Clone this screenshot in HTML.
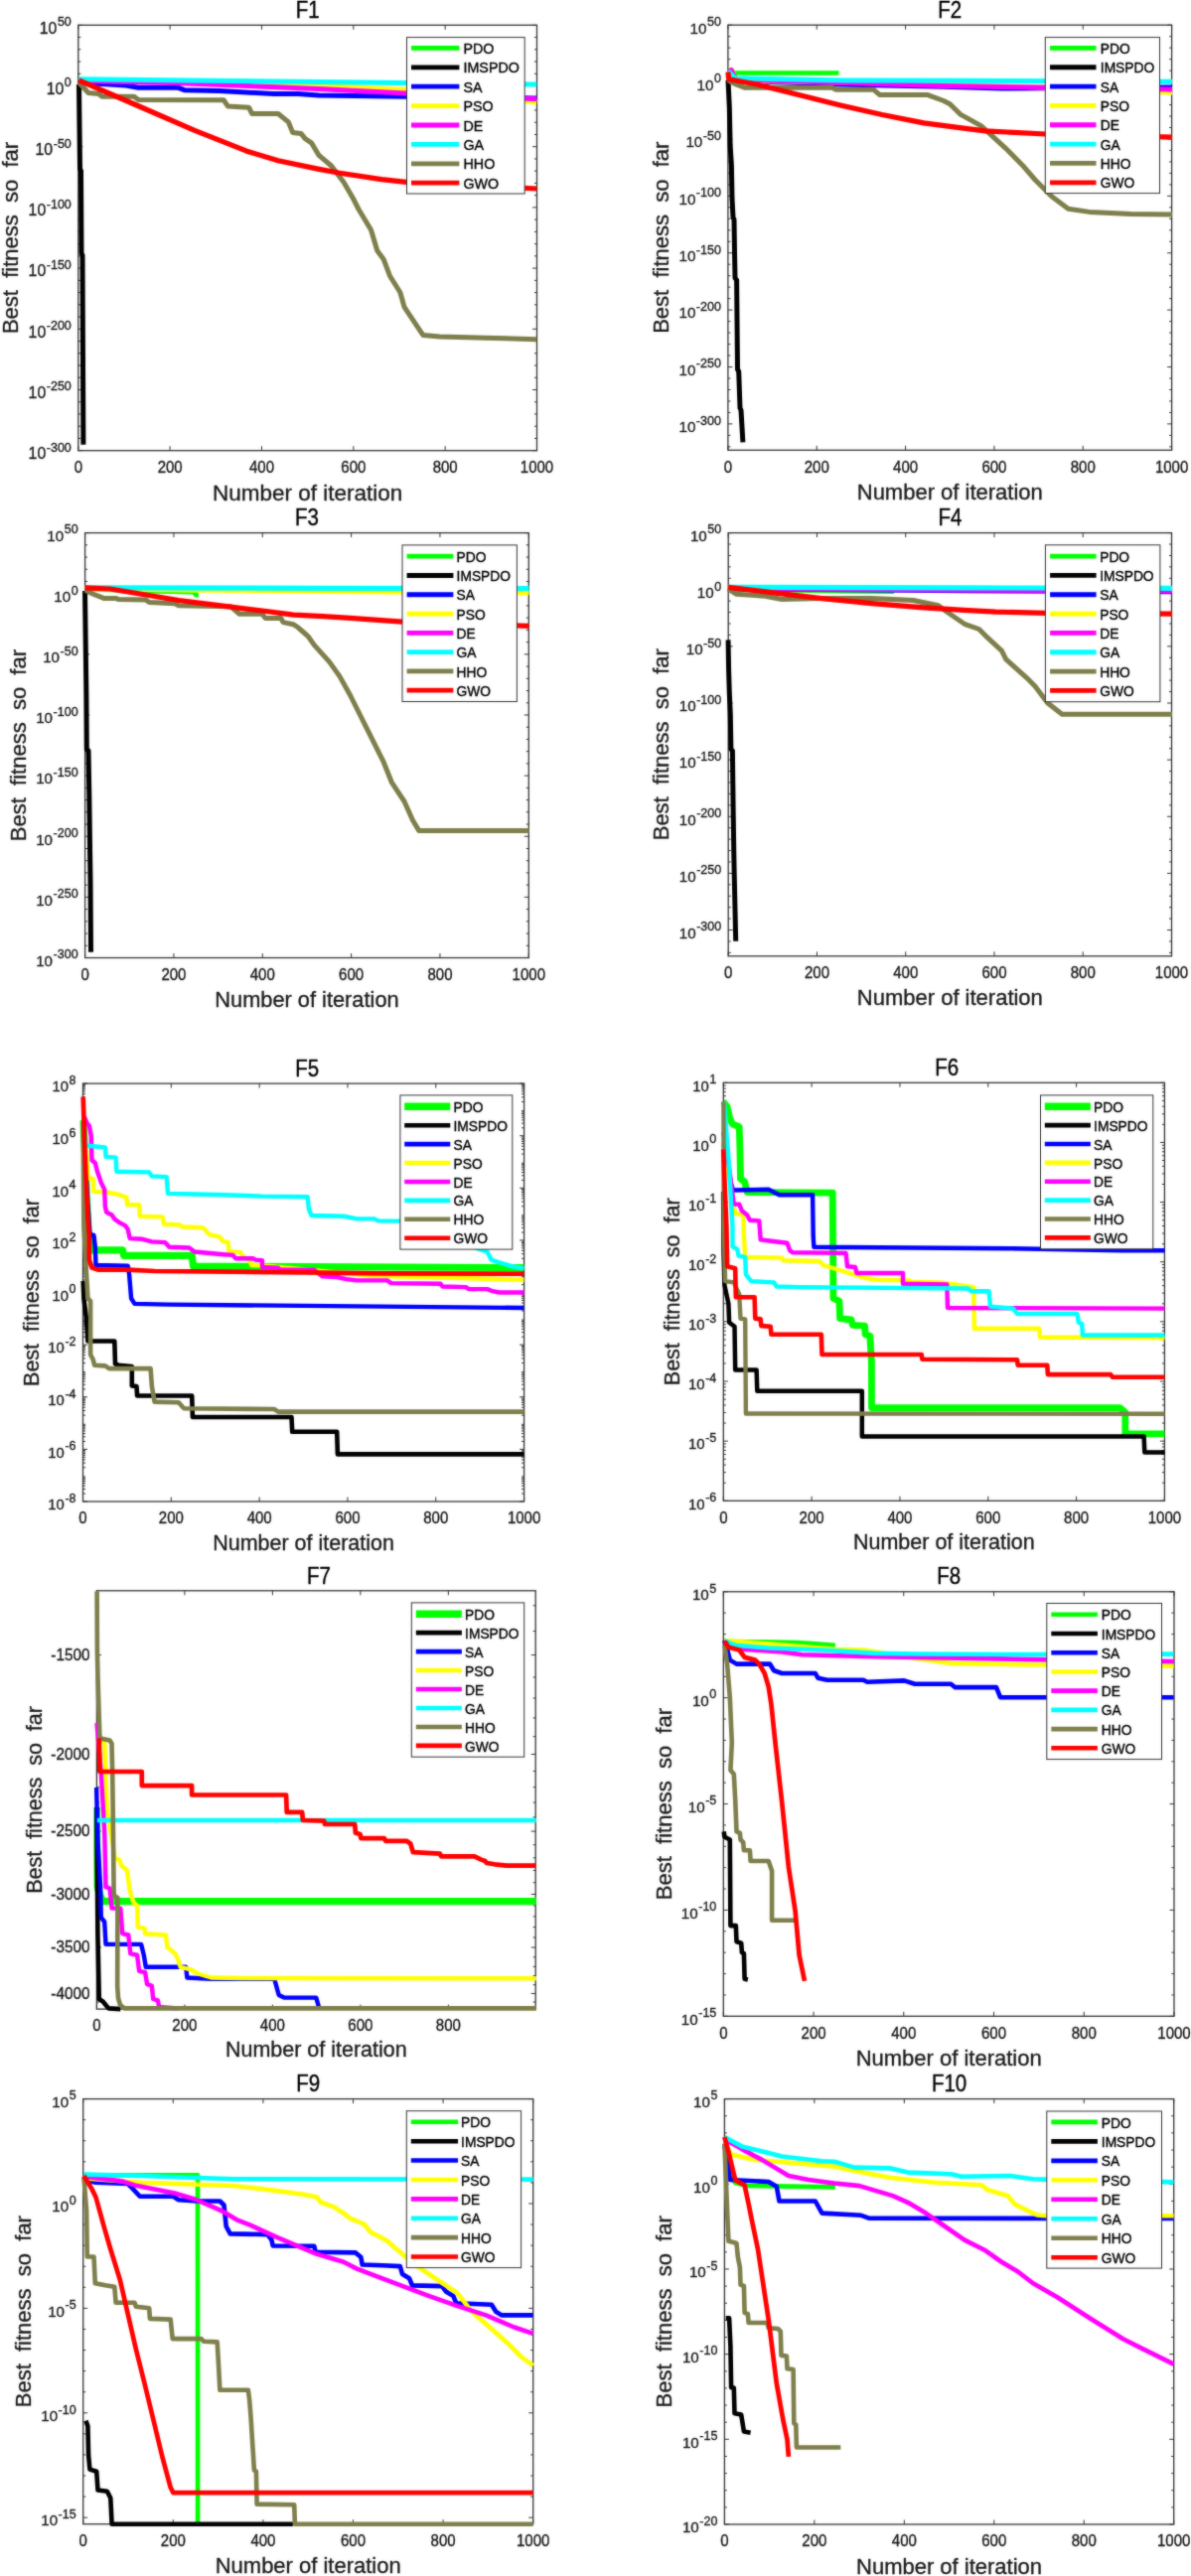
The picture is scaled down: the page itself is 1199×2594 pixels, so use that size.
<!DOCTYPE html><html><head><meta charset="utf-8"><style>html,body{margin:0;padding:0;background:#fff;}#wrap{position:relative;width:1199px;height:2594px;overflow:hidden}svg{position:absolute;left:0;top:0;display:block;font-family:"Liberation Sans",sans-serif;}#crisp{will-change:transform}#soft{filter:blur(1px);opacity:0.35}</style></head><body><div id="wrap">
<svg id="crisp" width="1199" height="2594" viewBox="0 0 1199 2594"><g id="all">
<rect width="1199" height="2594" fill="#fff"/>
<rect x="78.8" y="25.3" width="461.7" height="428.4" fill="none" stroke="#333333" stroke-width="1.3"/>
<path d="M78.8 453.7v-4.5M78.8 25.3v4.5" stroke="#333333" stroke-width="1"/>
<text transform="translate(78.8,476) scale(1,1.08)" font-size="15" text-anchor="middle" fill="#1a1a1a" stroke="#1a1a1a" stroke-width="0.35">0</text>
<path d="M171.14 453.7v-4.5M171.14 25.3v4.5" stroke="#333333" stroke-width="1"/>
<text transform="translate(171.14,476) scale(1,1.08)" font-size="15" text-anchor="middle" fill="#1a1a1a" stroke="#1a1a1a" stroke-width="0.35">200</text>
<path d="M263.48 453.7v-4.5M263.48 25.3v4.5" stroke="#333333" stroke-width="1"/>
<text transform="translate(263.48,476) scale(1,1.08)" font-size="15" text-anchor="middle" fill="#1a1a1a" stroke="#1a1a1a" stroke-width="0.35">400</text>
<path d="M355.82 453.7v-4.5M355.82 25.3v4.5" stroke="#333333" stroke-width="1"/>
<text transform="translate(355.82,476) scale(1,1.08)" font-size="15" text-anchor="middle" fill="#1a1a1a" stroke="#1a1a1a" stroke-width="0.35">600</text>
<path d="M448.16 453.7v-4.5M448.16 25.3v4.5" stroke="#333333" stroke-width="1"/>
<text transform="translate(448.16,476) scale(1,1.08)" font-size="15" text-anchor="middle" fill="#1a1a1a" stroke="#1a1a1a" stroke-width="0.35">800</text>
<path d="M540.5 453.7v-4.5M540.5 25.3v4.5" stroke="#333333" stroke-width="1"/>
<text transform="translate(540.5,476) scale(1,1.08)" font-size="15" text-anchor="middle" fill="#1a1a1a" stroke="#1a1a1a" stroke-width="0.35">1000</text>
<path d="M78.8 453.7h4.5M540.5 453.7h-4.5" stroke="#333333" stroke-width="1"/>
<path d="M78.8 392.5h4.5M540.5 392.5h-4.5" stroke="#333333" stroke-width="1"/>
<path d="M78.8 331.3h4.5M540.5 331.3h-4.5" stroke="#333333" stroke-width="1"/>
<path d="M78.8 270.1h4.5M540.5 270.1h-4.5" stroke="#333333" stroke-width="1"/>
<path d="M78.8 208.9h4.5M540.5 208.9h-4.5" stroke="#333333" stroke-width="1"/>
<path d="M78.8 147.7h4.5M540.5 147.7h-4.5" stroke="#333333" stroke-width="1"/>
<path d="M78.8 86.5h4.5M540.5 86.5h-4.5" stroke="#333333" stroke-width="1"/>
<path d="M78.8 25.3h4.5M540.5 25.3h-4.5" stroke="#333333" stroke-width="1"/>
<path d="M78.8 441.46h2.5M540.5 441.46h-2.5" stroke="#333333" stroke-width="1"/>
<path d="M78.8 429.22h2.5M540.5 429.22h-2.5" stroke="#333333" stroke-width="1"/>
<path d="M78.8 416.98h2.5M540.5 416.98h-2.5" stroke="#333333" stroke-width="1"/>
<path d="M78.8 404.74h2.5M540.5 404.74h-2.5" stroke="#333333" stroke-width="1"/>
<path d="M78.8 380.26h2.5M540.5 380.26h-2.5" stroke="#333333" stroke-width="1"/>
<path d="M78.8 368.02h2.5M540.5 368.02h-2.5" stroke="#333333" stroke-width="1"/>
<path d="M78.8 355.78h2.5M540.5 355.78h-2.5" stroke="#333333" stroke-width="1"/>
<path d="M78.8 343.54h2.5M540.5 343.54h-2.5" stroke="#333333" stroke-width="1"/>
<path d="M78.8 319.06h2.5M540.5 319.06h-2.5" stroke="#333333" stroke-width="1"/>
<path d="M78.8 306.82h2.5M540.5 306.82h-2.5" stroke="#333333" stroke-width="1"/>
<path d="M78.8 294.58h2.5M540.5 294.58h-2.5" stroke="#333333" stroke-width="1"/>
<path d="M78.8 282.34h2.5M540.5 282.34h-2.5" stroke="#333333" stroke-width="1"/>
<path d="M78.8 257.86h2.5M540.5 257.86h-2.5" stroke="#333333" stroke-width="1"/>
<path d="M78.8 245.62h2.5M540.5 245.62h-2.5" stroke="#333333" stroke-width="1"/>
<path d="M78.8 233.38h2.5M540.5 233.38h-2.5" stroke="#333333" stroke-width="1"/>
<path d="M78.8 221.14h2.5M540.5 221.14h-2.5" stroke="#333333" stroke-width="1"/>
<path d="M78.8 196.66h2.5M540.5 196.66h-2.5" stroke="#333333" stroke-width="1"/>
<path d="M78.8 184.42h2.5M540.5 184.42h-2.5" stroke="#333333" stroke-width="1"/>
<path d="M78.8 172.18h2.5M540.5 172.18h-2.5" stroke="#333333" stroke-width="1"/>
<path d="M78.8 159.94h2.5M540.5 159.94h-2.5" stroke="#333333" stroke-width="1"/>
<path d="M78.8 135.46h2.5M540.5 135.46h-2.5" stroke="#333333" stroke-width="1"/>
<path d="M78.8 123.22h2.5M540.5 123.22h-2.5" stroke="#333333" stroke-width="1"/>
<path d="M78.8 110.98h2.5M540.5 110.98h-2.5" stroke="#333333" stroke-width="1"/>
<path d="M78.8 98.74h2.5M540.5 98.74h-2.5" stroke="#333333" stroke-width="1"/>
<path d="M78.8 74.26h2.5M540.5 74.26h-2.5" stroke="#333333" stroke-width="1"/>
<path d="M78.8 62.02h2.5M540.5 62.02h-2.5" stroke="#333333" stroke-width="1"/>
<path d="M78.8 49.78h2.5M540.5 49.78h-2.5" stroke="#333333" stroke-width="1"/>
<path d="M78.8 37.54h2.5M540.5 37.54h-2.5" stroke="#333333" stroke-width="1"/>
<clipPath id="cF1"><rect x="75.8" y="22.3" width="467.7" height="434.4"/></clipPath>
<g clip-path="url(#cF1)" fill="none" stroke-linejoin="round" stroke-linecap="butt">
<polyline points="79.4,80 320,82.6" stroke="#00ff00" stroke-width="4"/>
<polyline points="79.5,85 80.5,170 81.5,172 82,255 83,257 83.9,447.7" stroke="#000000" stroke-width="5"/>
<polyline points="79.4,83 126.7,86.1 139.3,88.2 179,88.2 185.5,90.7 221,91.4 275.7,94.5 300,94.5 321,96 409,97.2 540.3,99" stroke="#0000ff" stroke-width="5"/>
<polyline points="79.4,81 200,83 320,86.5 409,90.3 540.3,102.9" stroke="#ffff00" stroke-width="5"/>
<polyline points="79.4,81.5 175,83.5 320,89.5 409,93.9 540.3,99.8" stroke="#ff00ff" stroke-width="5"/>
<polyline points="79.4,79.8 320,82.6 409,83.4 540.3,85.1" stroke="#00ffff" stroke-width="5"/>
<polyline points="79.4,83 88.9,93.5 99.4,94.5 102.5,97.2 135,97.2 139.3,100.4 225.3,100.8 229.5,107.1 250.5,108.2 253.7,114.5 280,114.5 290.4,122.9 294.6,133.4 303,134.4 307.2,139.6 313.5,143.8 321,156.4 333.6,167 346.2,183.7 355.6,200 360.9,210.5 373.5,231.5 379.8,252.5 386.1,260.9 392.4,277.7 402.9,294.5 407,309.2 423.8,334.3 426,337.5 442.7,339 488.9,340.2 540.3,341.7" stroke="#7f7f4c" stroke-width="5"/>
<polyline points="79.4,80.9 133,104 196,131.3 248.4,152.2 280,161.7 320,170.1 342,174.3 384,180.6 409,183.3 540.3,190" stroke="#ff0000" stroke-width="5.2"/>
</g>
<text transform="translate(71.8,26.1) scale(1,1.0)" font-size="12.5" text-anchor="end" fill="#1a1a1a" stroke="#1a1a1a" stroke-width="0.35">50</text>
<text transform="translate(57.29,33.6) scale(1,1.0)" font-size="15.8" text-anchor="end" fill="#1a1a1a" stroke="#1a1a1a" stroke-width="0.35">10</text>
<text transform="translate(71.8,87.3) scale(1,1.0)" font-size="12.5" text-anchor="end" fill="#1a1a1a" stroke="#1a1a1a" stroke-width="0.35">0</text>
<text transform="translate(64.25,94.8) scale(1,1.0)" font-size="15.8" text-anchor="end" fill="#1a1a1a" stroke="#1a1a1a" stroke-width="0.35">10</text>
<text transform="translate(71.8,148.5) scale(1,1.0)" font-size="12.5" text-anchor="end" fill="#1a1a1a" stroke="#1a1a1a" stroke-width="0.35">-50</text>
<text transform="translate(53.14,156) scale(1,1.0)" font-size="15.8" text-anchor="end" fill="#1a1a1a" stroke="#1a1a1a" stroke-width="0.35">10</text>
<text transform="translate(71.8,209.7) scale(1,1.0)" font-size="12.5" text-anchor="end" fill="#1a1a1a" stroke="#1a1a1a" stroke-width="0.35">-100</text>
<text transform="translate(46.18,217.2) scale(1,1.0)" font-size="15.8" text-anchor="end" fill="#1a1a1a" stroke="#1a1a1a" stroke-width="0.35">10</text>
<text transform="translate(71.8,270.9) scale(1,1.0)" font-size="12.5" text-anchor="end" fill="#1a1a1a" stroke="#1a1a1a" stroke-width="0.35">-150</text>
<text transform="translate(46.18,278.4) scale(1,1.0)" font-size="15.8" text-anchor="end" fill="#1a1a1a" stroke="#1a1a1a" stroke-width="0.35">10</text>
<text transform="translate(71.8,332.1) scale(1,1.0)" font-size="12.5" text-anchor="end" fill="#1a1a1a" stroke="#1a1a1a" stroke-width="0.35">-200</text>
<text transform="translate(46.18,339.6) scale(1,1.0)" font-size="15.8" text-anchor="end" fill="#1a1a1a" stroke="#1a1a1a" stroke-width="0.35">10</text>
<text transform="translate(71.8,393.3) scale(1,1.0)" font-size="12.5" text-anchor="end" fill="#1a1a1a" stroke="#1a1a1a" stroke-width="0.35">-250</text>
<text transform="translate(46.18,400.8) scale(1,1.0)" font-size="15.8" text-anchor="end" fill="#1a1a1a" stroke="#1a1a1a" stroke-width="0.35">10</text>
<text transform="translate(71.8,454.5) scale(1,1.0)" font-size="12.5" text-anchor="end" fill="#1a1a1a" stroke="#1a1a1a" stroke-width="0.35">-300</text>
<text transform="translate(46.18,462) scale(1,1.0)" font-size="15.8" text-anchor="end" fill="#1a1a1a" stroke="#1a1a1a" stroke-width="0.35">10</text>
<text transform="translate(309.65,17.8) scale(1,1.13)" font-size="20.5" text-anchor="middle" fill="#000" stroke="#000" stroke-width="0.35">F1</text>
<text transform="translate(309.65,503.7) scale(1,0.99)" font-size="22.5" text-anchor="middle" fill="#1a1a1a" stroke="#1a1a1a" stroke-width="0.35">Number of iteration</text>
<text transform="translate(18.1,239.5) rotate(-90)" x="0" y="0" font-size="22" text-anchor="middle" fill="#1a1a1a" stroke="#1a1a1a" stroke-width="0.35" style="white-space:pre">Best  fitness  so  far</text>
<rect x="409.5" y="37.6" width="118.7" height="157.4" fill="#fff" stroke="#333333" stroke-width="1"/>
<path d="M414 48.4H462.4" stroke="#00ff00" stroke-width="4.8"/>
<text transform="translate(466.5,54) scale(1,1.04)" font-size="14.3" fill="#000" stroke="#000" stroke-width="0.35">PDO</text>
<path d="M414 67.8H462.4" stroke="#000000" stroke-width="4.8"/>
<text transform="translate(466.5,73.4) scale(1,1.04)" font-size="14.3" fill="#000" stroke="#000" stroke-width="0.35">IMSPDO</text>
<path d="M414 87.2H462.4" stroke="#0000ff" stroke-width="4.8"/>
<text transform="translate(466.5,92.8) scale(1,1.04)" font-size="14.3" fill="#000" stroke="#000" stroke-width="0.35">SA</text>
<path d="M414 106.6H462.4" stroke="#ffff00" stroke-width="4.8"/>
<text transform="translate(466.5,112.2) scale(1,1.04)" font-size="14.3" fill="#000" stroke="#000" stroke-width="0.35">PSO</text>
<path d="M414 126H462.4" stroke="#ff00ff" stroke-width="4.8"/>
<text transform="translate(466.5,131.6) scale(1,1.04)" font-size="14.3" fill="#000" stroke="#000" stroke-width="0.35">DE</text>
<path d="M414 145.4H462.4" stroke="#00ffff" stroke-width="4.8"/>
<text transform="translate(466.5,151) scale(1,1.04)" font-size="14.3" fill="#000" stroke="#000" stroke-width="0.35">GA</text>
<path d="M414 164.8H462.4" stroke="#7f7f4c" stroke-width="4.8"/>
<text transform="translate(466.5,170.4) scale(1,1.04)" font-size="14.3" fill="#000" stroke="#000" stroke-width="0.35">HHO</text>
<path d="M414 184.2H462.4" stroke="#ff0000" stroke-width="4.8"/>
<text transform="translate(466.5,189.8) scale(1,1.04)" font-size="14.3" fill="#000" stroke="#000" stroke-width="0.35">GWO</text>
<rect x="732.9" y="25.2" width="446.7" height="428.1" fill="none" stroke="#333333" stroke-width="1.3"/>
<path d="M732.9 453.3v-4.5M732.9 25.2v4.5" stroke="#333333" stroke-width="1"/>
<text transform="translate(732.9,475.6) scale(1,1.08)" font-size="15" text-anchor="middle" fill="#1a1a1a" stroke="#1a1a1a" stroke-width="0.35">0</text>
<path d="M822.24 453.3v-4.5M822.24 25.2v4.5" stroke="#333333" stroke-width="1"/>
<text transform="translate(822.24,475.6) scale(1,1.08)" font-size="15" text-anchor="middle" fill="#1a1a1a" stroke="#1a1a1a" stroke-width="0.35">200</text>
<path d="M911.58 453.3v-4.5M911.58 25.2v4.5" stroke="#333333" stroke-width="1"/>
<text transform="translate(911.58,475.6) scale(1,1.08)" font-size="15" text-anchor="middle" fill="#1a1a1a" stroke="#1a1a1a" stroke-width="0.35">400</text>
<path d="M1000.92 453.3v-4.5M1000.92 25.2v4.5" stroke="#333333" stroke-width="1"/>
<text transform="translate(1000.92,475.6) scale(1,1.08)" font-size="15" text-anchor="middle" fill="#1a1a1a" stroke="#1a1a1a" stroke-width="0.35">600</text>
<path d="M1090.26 453.3v-4.5M1090.26 25.2v4.5" stroke="#333333" stroke-width="1"/>
<text transform="translate(1090.26,475.6) scale(1,1.08)" font-size="15" text-anchor="middle" fill="#1a1a1a" stroke="#1a1a1a" stroke-width="0.35">800</text>
<path d="M1179.6 453.3v-4.5M1179.6 25.2v4.5" stroke="#333333" stroke-width="1"/>
<text transform="translate(1179.6,475.6) scale(1,1.08)" font-size="15" text-anchor="middle" fill="#1a1a1a" stroke="#1a1a1a" stroke-width="0.35">1000</text>
<path d="M732.9 426.9h4.5M1179.6 426.9h-4.5" stroke="#333333" stroke-width="1"/>
<path d="M732.9 369.52h4.5M1179.6 369.52h-4.5" stroke="#333333" stroke-width="1"/>
<path d="M732.9 312.13h4.5M1179.6 312.13h-4.5" stroke="#333333" stroke-width="1"/>
<path d="M732.9 254.74h4.5M1179.6 254.74h-4.5" stroke="#333333" stroke-width="1"/>
<path d="M732.9 197.36h4.5M1179.6 197.36h-4.5" stroke="#333333" stroke-width="1"/>
<path d="M732.9 139.97h4.5M1179.6 139.97h-4.5" stroke="#333333" stroke-width="1"/>
<path d="M732.9 82.59h4.5M1179.6 82.59h-4.5" stroke="#333333" stroke-width="1"/>
<path d="M732.9 25.2h4.5M1179.6 25.2h-4.5" stroke="#333333" stroke-width="1"/>
<path d="M732.9 449.86h2.5M1179.6 449.86h-2.5" stroke="#333333" stroke-width="1"/>
<path d="M732.9 438.38h2.5M1179.6 438.38h-2.5" stroke="#333333" stroke-width="1"/>
<path d="M732.9 415.43h2.5M1179.6 415.43h-2.5" stroke="#333333" stroke-width="1"/>
<path d="M732.9 403.95h2.5M1179.6 403.95h-2.5" stroke="#333333" stroke-width="1"/>
<path d="M732.9 392.47h2.5M1179.6 392.47h-2.5" stroke="#333333" stroke-width="1"/>
<path d="M732.9 380.99h2.5M1179.6 380.99h-2.5" stroke="#333333" stroke-width="1"/>
<path d="M732.9 358.04h2.5M1179.6 358.04h-2.5" stroke="#333333" stroke-width="1"/>
<path d="M732.9 346.56h2.5M1179.6 346.56h-2.5" stroke="#333333" stroke-width="1"/>
<path d="M732.9 335.08h2.5M1179.6 335.08h-2.5" stroke="#333333" stroke-width="1"/>
<path d="M732.9 323.61h2.5M1179.6 323.61h-2.5" stroke="#333333" stroke-width="1"/>
<path d="M732.9 300.65h2.5M1179.6 300.65h-2.5" stroke="#333333" stroke-width="1"/>
<path d="M732.9 289.18h2.5M1179.6 289.18h-2.5" stroke="#333333" stroke-width="1"/>
<path d="M732.9 277.7h2.5M1179.6 277.7h-2.5" stroke="#333333" stroke-width="1"/>
<path d="M732.9 266.22h2.5M1179.6 266.22h-2.5" stroke="#333333" stroke-width="1"/>
<path d="M732.9 243.27h2.5M1179.6 243.27h-2.5" stroke="#333333" stroke-width="1"/>
<path d="M732.9 231.79h2.5M1179.6 231.79h-2.5" stroke="#333333" stroke-width="1"/>
<path d="M732.9 220.31h2.5M1179.6 220.31h-2.5" stroke="#333333" stroke-width="1"/>
<path d="M732.9 208.84h2.5M1179.6 208.84h-2.5" stroke="#333333" stroke-width="1"/>
<path d="M732.9 185.88h2.5M1179.6 185.88h-2.5" stroke="#333333" stroke-width="1"/>
<path d="M732.9 174.4h2.5M1179.6 174.4h-2.5" stroke="#333333" stroke-width="1"/>
<path d="M732.9 162.93h2.5M1179.6 162.93h-2.5" stroke="#333333" stroke-width="1"/>
<path d="M732.9 151.45h2.5M1179.6 151.45h-2.5" stroke="#333333" stroke-width="1"/>
<path d="M732.9 128.49h2.5M1179.6 128.49h-2.5" stroke="#333333" stroke-width="1"/>
<path d="M732.9 117.02h2.5M1179.6 117.02h-2.5" stroke="#333333" stroke-width="1"/>
<path d="M732.9 105.54h2.5M1179.6 105.54h-2.5" stroke="#333333" stroke-width="1"/>
<path d="M732.9 94.06h2.5M1179.6 94.06h-2.5" stroke="#333333" stroke-width="1"/>
<path d="M732.9 71.11h2.5M1179.6 71.11h-2.5" stroke="#333333" stroke-width="1"/>
<path d="M732.9 59.63h2.5M1179.6 59.63h-2.5" stroke="#333333" stroke-width="1"/>
<path d="M732.9 48.15h2.5M1179.6 48.15h-2.5" stroke="#333333" stroke-width="1"/>
<path d="M732.9 36.68h2.5M1179.6 36.68h-2.5" stroke="#333333" stroke-width="1"/>
<clipPath id="cF2"><rect x="729.9" y="22.2" width="452.7" height="434.1"/></clipPath>
<g clip-path="url(#cF2)" fill="none" stroke-linejoin="round" stroke-linecap="butt">
<polyline points="733,70 737,70.5 739,73.5 844.5,73.5" stroke="#00ff00" stroke-width="4.5"/>
<polyline points="733,81 734.3,108 735.1,146 736.4,167 737,200 738,219 739,221 739.5,254 740,280 741.6,282 742.5,372 743.7,374 745,411 746,413 747.9,445.3" stroke="#000000" stroke-width="5"/>
<polyline points="733,81 846,85 950,87.3 1008.5,89 1180,88" stroke="#0000ff" stroke-width="5"/>
<polyline points="733,70 737,71 741,81 900,84 1050,88 1180,93.2" stroke="#ffff00" stroke-width="5"/>
<polyline points="733,72 736,70.5 741,80 950,86.5 1180,90" stroke="#ff00ff" stroke-width="5"/>
<polyline points="733,71.4 740,78.8 850,80.9 970,81.3 1180,82.3" stroke="#00ffff" stroke-width="5"/>
<polyline points="733,80.9 741,85 749.4,88.2 837.5,88.2 841.7,90.3 879.5,90.3 885.8,95.6 934,95.6 950,101.5 956.3,104.7 966.7,115.1 987.6,126.6 1000.2,138.1 1012.7,149.6 1029.4,166.4 1042,181 1058.7,197.7 1075.4,210.3 1096.4,213.4 1138.2,215.5 1180,216.1" stroke="#7f7f4c" stroke-width="5"/>
<polyline points="733,72.5 733.6,79.8 762,85 804,95.6 846,106 888,115.5 930,123.9 970,129.2 991.8,131.9 1052.4,135 1180,138.1" stroke="#ff0000" stroke-width="5.2"/>
</g>
<text transform="translate(725.9,26) scale(1,1.0)" font-size="12.5" text-anchor="end" fill="#1a1a1a" stroke="#1a1a1a" stroke-width="0.35">50</text>
<text transform="translate(711.39,33.5) scale(1,1.0)" font-size="15.1" text-anchor="end" fill="#1a1a1a" stroke="#1a1a1a" stroke-width="0.35">10</text>
<text transform="translate(725.9,83.39) scale(1,1.0)" font-size="12.5" text-anchor="end" fill="#1a1a1a" stroke="#1a1a1a" stroke-width="0.35">0</text>
<text transform="translate(718.35,90.89) scale(1,1.0)" font-size="15.1" text-anchor="end" fill="#1a1a1a" stroke="#1a1a1a" stroke-width="0.35">10</text>
<text transform="translate(725.9,140.77) scale(1,1.0)" font-size="12.5" text-anchor="end" fill="#1a1a1a" stroke="#1a1a1a" stroke-width="0.35">-50</text>
<text transform="translate(707.24,148.27) scale(1,1.0)" font-size="15.1" text-anchor="end" fill="#1a1a1a" stroke="#1a1a1a" stroke-width="0.35">10</text>
<text transform="translate(725.9,198.16) scale(1,1.0)" font-size="12.5" text-anchor="end" fill="#1a1a1a" stroke="#1a1a1a" stroke-width="0.35">-100</text>
<text transform="translate(700.28,205.66) scale(1,1.0)" font-size="15.1" text-anchor="end" fill="#1a1a1a" stroke="#1a1a1a" stroke-width="0.35">10</text>
<text transform="translate(725.9,255.54) scale(1,1.0)" font-size="12.5" text-anchor="end" fill="#1a1a1a" stroke="#1a1a1a" stroke-width="0.35">-150</text>
<text transform="translate(700.28,263.04) scale(1,1.0)" font-size="15.1" text-anchor="end" fill="#1a1a1a" stroke="#1a1a1a" stroke-width="0.35">10</text>
<text transform="translate(725.9,312.93) scale(1,1.0)" font-size="12.5" text-anchor="end" fill="#1a1a1a" stroke="#1a1a1a" stroke-width="0.35">-200</text>
<text transform="translate(700.28,320.43) scale(1,1.0)" font-size="15.1" text-anchor="end" fill="#1a1a1a" stroke="#1a1a1a" stroke-width="0.35">10</text>
<text transform="translate(725.9,370.32) scale(1,1.0)" font-size="12.5" text-anchor="end" fill="#1a1a1a" stroke="#1a1a1a" stroke-width="0.35">-250</text>
<text transform="translate(700.28,377.82) scale(1,1.0)" font-size="15.1" text-anchor="end" fill="#1a1a1a" stroke="#1a1a1a" stroke-width="0.35">10</text>
<text transform="translate(725.9,427.7) scale(1,1.0)" font-size="12.5" text-anchor="end" fill="#1a1a1a" stroke="#1a1a1a" stroke-width="0.35">-300</text>
<text transform="translate(700.28,435.2) scale(1,1.0)" font-size="15.1" text-anchor="end" fill="#1a1a1a" stroke="#1a1a1a" stroke-width="0.35">10</text>
<text transform="translate(956.25,17.6) scale(1,1.13)" font-size="20.5" text-anchor="middle" fill="#000" stroke="#000" stroke-width="0.35">F2</text>
<text transform="translate(956.25,503) scale(1,0.99)" font-size="22" text-anchor="middle" fill="#1a1a1a" stroke="#1a1a1a" stroke-width="0.35">Number of iteration</text>
<text transform="translate(673.1,239.25) rotate(-90)" x="0" y="0" font-size="22" text-anchor="middle" fill="#1a1a1a" stroke="#1a1a1a" stroke-width="0.35" style="white-space:pre">Best  fitness  so  far</text>
<rect x="1052.3" y="37.6" width="115.2" height="157" fill="#fff" stroke="#333333" stroke-width="1"/>
<path d="M1057 48.4H1103.5" stroke="#00ff00" stroke-width="4.8"/>
<text transform="translate(1107.8,54) scale(1,1.04)" font-size="13.8" fill="#000" stroke="#000" stroke-width="0.35">PDO</text>
<path d="M1057 67.74H1103.5" stroke="#000000" stroke-width="4.8"/>
<text transform="translate(1107.8,73.34) scale(1,1.04)" font-size="13.8" fill="#000" stroke="#000" stroke-width="0.35">IMSPDO</text>
<path d="M1057 87.09H1103.5" stroke="#0000ff" stroke-width="4.8"/>
<text transform="translate(1107.8,92.69) scale(1,1.04)" font-size="13.8" fill="#000" stroke="#000" stroke-width="0.35">SA</text>
<path d="M1057 106.43H1103.5" stroke="#ffff00" stroke-width="4.8"/>
<text transform="translate(1107.8,112.03) scale(1,1.04)" font-size="13.8" fill="#000" stroke="#000" stroke-width="0.35">PSO</text>
<path d="M1057 125.77H1103.5" stroke="#ff00ff" stroke-width="4.8"/>
<text transform="translate(1107.8,131.37) scale(1,1.04)" font-size="13.8" fill="#000" stroke="#000" stroke-width="0.35">DE</text>
<path d="M1057 145.11H1103.5" stroke="#00ffff" stroke-width="4.8"/>
<text transform="translate(1107.8,150.71) scale(1,1.04)" font-size="13.8" fill="#000" stroke="#000" stroke-width="0.35">GA</text>
<path d="M1057 164.46H1103.5" stroke="#7f7f4c" stroke-width="4.8"/>
<text transform="translate(1107.8,170.06) scale(1,1.04)" font-size="13.8" fill="#000" stroke="#000" stroke-width="0.35">HHO</text>
<path d="M1057 183.8H1103.5" stroke="#ff0000" stroke-width="4.8"/>
<text transform="translate(1107.8,189.4) scale(1,1.04)" font-size="13.8" fill="#000" stroke="#000" stroke-width="0.35">GWO</text>
<rect x="85.6" y="536.6" width="446.7" height="427.9" fill="none" stroke="#333333" stroke-width="1.3"/>
<path d="M85.6 964.5v-4.5M85.6 536.6v4.5" stroke="#333333" stroke-width="1"/>
<text transform="translate(85.6,986.8) scale(1,1.08)" font-size="15" text-anchor="middle" fill="#1a1a1a" stroke="#1a1a1a" stroke-width="0.35">0</text>
<path d="M174.94 964.5v-4.5M174.94 536.6v4.5" stroke="#333333" stroke-width="1"/>
<text transform="translate(174.94,986.8) scale(1,1.08)" font-size="15" text-anchor="middle" fill="#1a1a1a" stroke="#1a1a1a" stroke-width="0.35">200</text>
<path d="M264.28 964.5v-4.5M264.28 536.6v4.5" stroke="#333333" stroke-width="1"/>
<text transform="translate(264.28,986.8) scale(1,1.08)" font-size="15" text-anchor="middle" fill="#1a1a1a" stroke="#1a1a1a" stroke-width="0.35">400</text>
<path d="M353.62 964.5v-4.5M353.62 536.6v4.5" stroke="#333333" stroke-width="1"/>
<text transform="translate(353.62,986.8) scale(1,1.08)" font-size="15" text-anchor="middle" fill="#1a1a1a" stroke="#1a1a1a" stroke-width="0.35">600</text>
<path d="M442.96 964.5v-4.5M442.96 536.6v4.5" stroke="#333333" stroke-width="1"/>
<text transform="translate(442.96,986.8) scale(1,1.08)" font-size="15" text-anchor="middle" fill="#1a1a1a" stroke="#1a1a1a" stroke-width="0.35">800</text>
<path d="M532.3 964.5v-4.5M532.3 536.6v4.5" stroke="#333333" stroke-width="1"/>
<text transform="translate(532.3,986.8) scale(1,1.08)" font-size="15" text-anchor="middle" fill="#1a1a1a" stroke="#1a1a1a" stroke-width="0.35">1000</text>
<path d="M85.6 964.5h4.5M532.3 964.5h-4.5" stroke="#333333" stroke-width="1"/>
<path d="M85.6 903.37h4.5M532.3 903.37h-4.5" stroke="#333333" stroke-width="1"/>
<path d="M85.6 842.24h4.5M532.3 842.24h-4.5" stroke="#333333" stroke-width="1"/>
<path d="M85.6 781.11h4.5M532.3 781.11h-4.5" stroke="#333333" stroke-width="1"/>
<path d="M85.6 719.99h4.5M532.3 719.99h-4.5" stroke="#333333" stroke-width="1"/>
<path d="M85.6 658.86h4.5M532.3 658.86h-4.5" stroke="#333333" stroke-width="1"/>
<path d="M85.6 597.73h4.5M532.3 597.73h-4.5" stroke="#333333" stroke-width="1"/>
<path d="M85.6 536.6h4.5M532.3 536.6h-4.5" stroke="#333333" stroke-width="1"/>
<path d="M85.6 952.27h2.5M532.3 952.27h-2.5" stroke="#333333" stroke-width="1"/>
<path d="M85.6 940.05h2.5M532.3 940.05h-2.5" stroke="#333333" stroke-width="1"/>
<path d="M85.6 927.82h2.5M532.3 927.82h-2.5" stroke="#333333" stroke-width="1"/>
<path d="M85.6 915.6h2.5M532.3 915.6h-2.5" stroke="#333333" stroke-width="1"/>
<path d="M85.6 891.15h2.5M532.3 891.15h-2.5" stroke="#333333" stroke-width="1"/>
<path d="M85.6 878.92h2.5M532.3 878.92h-2.5" stroke="#333333" stroke-width="1"/>
<path d="M85.6 866.69h2.5M532.3 866.69h-2.5" stroke="#333333" stroke-width="1"/>
<path d="M85.6 854.47h2.5M532.3 854.47h-2.5" stroke="#333333" stroke-width="1"/>
<path d="M85.6 830.02h2.5M532.3 830.02h-2.5" stroke="#333333" stroke-width="1"/>
<path d="M85.6 817.79h2.5M532.3 817.79h-2.5" stroke="#333333" stroke-width="1"/>
<path d="M85.6 805.57h2.5M532.3 805.57h-2.5" stroke="#333333" stroke-width="1"/>
<path d="M85.6 793.34h2.5M532.3 793.34h-2.5" stroke="#333333" stroke-width="1"/>
<path d="M85.6 768.89h2.5M532.3 768.89h-2.5" stroke="#333333" stroke-width="1"/>
<path d="M85.6 756.66h2.5M532.3 756.66h-2.5" stroke="#333333" stroke-width="1"/>
<path d="M85.6 744.44h2.5M532.3 744.44h-2.5" stroke="#333333" stroke-width="1"/>
<path d="M85.6 732.21h2.5M532.3 732.21h-2.5" stroke="#333333" stroke-width="1"/>
<path d="M85.6 707.76h2.5M532.3 707.76h-2.5" stroke="#333333" stroke-width="1"/>
<path d="M85.6 695.53h2.5M532.3 695.53h-2.5" stroke="#333333" stroke-width="1"/>
<path d="M85.6 683.31h2.5M532.3 683.31h-2.5" stroke="#333333" stroke-width="1"/>
<path d="M85.6 671.08h2.5M532.3 671.08h-2.5" stroke="#333333" stroke-width="1"/>
<path d="M85.6 646.63h2.5M532.3 646.63h-2.5" stroke="#333333" stroke-width="1"/>
<path d="M85.6 634.41h2.5M532.3 634.41h-2.5" stroke="#333333" stroke-width="1"/>
<path d="M85.6 622.18h2.5M532.3 622.18h-2.5" stroke="#333333" stroke-width="1"/>
<path d="M85.6 609.95h2.5M532.3 609.95h-2.5" stroke="#333333" stroke-width="1"/>
<path d="M85.6 585.5h2.5M532.3 585.5h-2.5" stroke="#333333" stroke-width="1"/>
<path d="M85.6 573.28h2.5M532.3 573.28h-2.5" stroke="#333333" stroke-width="1"/>
<path d="M85.6 561.05h2.5M532.3 561.05h-2.5" stroke="#333333" stroke-width="1"/>
<path d="M85.6 548.83h2.5M532.3 548.83h-2.5" stroke="#333333" stroke-width="1"/>
<clipPath id="cF3"><rect x="82.6" y="533.6" width="452.7" height="433.9"/></clipPath>
<g clip-path="url(#cF3)" fill="none" stroke-linejoin="round" stroke-linecap="butt">
<polyline points="85.5,593 150,595 195,596.1 197,599 199.9,599" stroke="#00ff00" stroke-width="4.8"/>
<polyline points="85.5,595 86.9,700 87.3,754.6 89,756 89.8,800 90.6,860 91,886 91.5,958.7" stroke="#000000" stroke-width="5"/>
<polyline points="85.5,593 325,595.5 532.6,596.8" stroke="#ffff00" stroke-width="5"/>
<polyline points="85.5,591.9 325,592.3 532.6,592.6" stroke="#00ffff" stroke-width="5.2"/>
<polyline points="85.5,594 93.9,598.2 104.4,602.4 117,602.4 119,603.5 146.4,603.9 150.6,606.6 175.8,607.7 180,609.8 232.4,610.8 240.8,618.2 264,618.2 267,622.4 282.8,622.4 285,626.6 295.4,628.7 300,631.8 305.9,637 310.5,641.2 316.4,649.6 331.5,666.4 342,681.1 352.5,700 363,721 369.3,733.6 386.1,767.2 394.5,788.2 407,807 415.5,826 421.7,836.4 532.6,836.4" stroke="#7f7f4c" stroke-width="5"/>
<polyline points="85.5,591.9 110.7,593 148.5,599.3 180,604.5 222,609.8 264,615 295.4,619.2 325,620.7 352.5,622.4 405,626.1 532.6,630.3" stroke="#ff0000" stroke-width="5.2"/>
</g>
<text transform="translate(78.6,537.4) scale(1,1.0)" font-size="12.5" text-anchor="end" fill="#1a1a1a" stroke="#1a1a1a" stroke-width="0.35">50</text>
<text transform="translate(64.09,544.9) scale(1,1.0)" font-size="15.1" text-anchor="end" fill="#1a1a1a" stroke="#1a1a1a" stroke-width="0.35">10</text>
<text transform="translate(78.6,598.53) scale(1,1.0)" font-size="12.5" text-anchor="end" fill="#1a1a1a" stroke="#1a1a1a" stroke-width="0.35">0</text>
<text transform="translate(71.05,606.03) scale(1,1.0)" font-size="15.1" text-anchor="end" fill="#1a1a1a" stroke="#1a1a1a" stroke-width="0.35">10</text>
<text transform="translate(78.6,659.66) scale(1,1.0)" font-size="12.5" text-anchor="end" fill="#1a1a1a" stroke="#1a1a1a" stroke-width="0.35">-50</text>
<text transform="translate(59.94,667.16) scale(1,1.0)" font-size="15.1" text-anchor="end" fill="#1a1a1a" stroke="#1a1a1a" stroke-width="0.35">10</text>
<text transform="translate(78.6,720.79) scale(1,1.0)" font-size="12.5" text-anchor="end" fill="#1a1a1a" stroke="#1a1a1a" stroke-width="0.35">-100</text>
<text transform="translate(52.98,728.29) scale(1,1.0)" font-size="15.1" text-anchor="end" fill="#1a1a1a" stroke="#1a1a1a" stroke-width="0.35">10</text>
<text transform="translate(78.6,781.91) scale(1,1.0)" font-size="12.5" text-anchor="end" fill="#1a1a1a" stroke="#1a1a1a" stroke-width="0.35">-150</text>
<text transform="translate(52.98,789.41) scale(1,1.0)" font-size="15.1" text-anchor="end" fill="#1a1a1a" stroke="#1a1a1a" stroke-width="0.35">10</text>
<text transform="translate(78.6,843.04) scale(1,1.0)" font-size="12.5" text-anchor="end" fill="#1a1a1a" stroke="#1a1a1a" stroke-width="0.35">-200</text>
<text transform="translate(52.98,850.54) scale(1,1.0)" font-size="15.1" text-anchor="end" fill="#1a1a1a" stroke="#1a1a1a" stroke-width="0.35">10</text>
<text transform="translate(78.6,904.17) scale(1,1.0)" font-size="12.5" text-anchor="end" fill="#1a1a1a" stroke="#1a1a1a" stroke-width="0.35">-250</text>
<text transform="translate(52.98,911.67) scale(1,1.0)" font-size="15.1" text-anchor="end" fill="#1a1a1a" stroke="#1a1a1a" stroke-width="0.35">10</text>
<text transform="translate(78.6,965.3) scale(1,1.0)" font-size="12.5" text-anchor="end" fill="#1a1a1a" stroke="#1a1a1a" stroke-width="0.35">-300</text>
<text transform="translate(52.98,972.8) scale(1,1.0)" font-size="15.1" text-anchor="end" fill="#1a1a1a" stroke="#1a1a1a" stroke-width="0.35">10</text>
<text transform="translate(308.95,529.2) scale(1,1.13)" font-size="20.5" text-anchor="middle" fill="#000" stroke="#000" stroke-width="0.35">F3</text>
<text transform="translate(308.95,1014.1) scale(1,0.99)" font-size="21.8" text-anchor="middle" fill="#1a1a1a" stroke="#1a1a1a" stroke-width="0.35">Number of iteration</text>
<text transform="translate(25.6,750.55) rotate(-90)" x="0" y="0" font-size="22" text-anchor="middle" fill="#1a1a1a" stroke="#1a1a1a" stroke-width="0.35" style="white-space:pre">Best  fitness  so  far</text>
<rect x="405" y="548.9" width="115.4" height="157.6" fill="#fff" stroke="#333333" stroke-width="1"/>
<path d="M409.6 560.2H456.4" stroke="#00ff00" stroke-width="4.8"/>
<text transform="translate(459.6,565.8) scale(1,1.04)" font-size="13.8" fill="#000" stroke="#000" stroke-width="0.35">PDO</text>
<path d="M409.6 579.49H456.4" stroke="#000000" stroke-width="4.8"/>
<text transform="translate(459.6,585.09) scale(1,1.04)" font-size="13.8" fill="#000" stroke="#000" stroke-width="0.35">IMSPDO</text>
<path d="M409.6 598.77H456.4" stroke="#0000ff" stroke-width="4.8"/>
<text transform="translate(459.6,604.37) scale(1,1.04)" font-size="13.8" fill="#000" stroke="#000" stroke-width="0.35">SA</text>
<path d="M409.6 618.06H456.4" stroke="#ffff00" stroke-width="4.8"/>
<text transform="translate(459.6,623.66) scale(1,1.04)" font-size="13.8" fill="#000" stroke="#000" stroke-width="0.35">PSO</text>
<path d="M409.6 637.34H456.4" stroke="#ff00ff" stroke-width="4.8"/>
<text transform="translate(459.6,642.94) scale(1,1.04)" font-size="13.8" fill="#000" stroke="#000" stroke-width="0.35">DE</text>
<path d="M409.6 656.63H456.4" stroke="#00ffff" stroke-width="4.8"/>
<text transform="translate(459.6,662.23) scale(1,1.04)" font-size="13.8" fill="#000" stroke="#000" stroke-width="0.35">GA</text>
<path d="M409.6 675.91H456.4" stroke="#7f7f4c" stroke-width="4.8"/>
<text transform="translate(459.6,681.51) scale(1,1.04)" font-size="13.8" fill="#000" stroke="#000" stroke-width="0.35">HHO</text>
<path d="M409.6 695.2H456.4" stroke="#ff0000" stroke-width="4.8"/>
<text transform="translate(459.6,700.8) scale(1,1.04)" font-size="13.8" fill="#000" stroke="#000" stroke-width="0.35">GWO</text>
<rect x="733.2" y="536.6" width="446.3" height="426.2" fill="none" stroke="#333333" stroke-width="1.3"/>
<path d="M733.2 962.8v-4.5M733.2 536.6v4.5" stroke="#333333" stroke-width="1"/>
<text transform="translate(733.2,985.1) scale(1,1.08)" font-size="15" text-anchor="middle" fill="#1a1a1a" stroke="#1a1a1a" stroke-width="0.35">0</text>
<path d="M822.46 962.8v-4.5M822.46 536.6v4.5" stroke="#333333" stroke-width="1"/>
<text transform="translate(822.46,985.1) scale(1,1.08)" font-size="15" text-anchor="middle" fill="#1a1a1a" stroke="#1a1a1a" stroke-width="0.35">200</text>
<path d="M911.72 962.8v-4.5M911.72 536.6v4.5" stroke="#333333" stroke-width="1"/>
<text transform="translate(911.72,985.1) scale(1,1.08)" font-size="15" text-anchor="middle" fill="#1a1a1a" stroke="#1a1a1a" stroke-width="0.35">400</text>
<path d="M1000.98 962.8v-4.5M1000.98 536.6v4.5" stroke="#333333" stroke-width="1"/>
<text transform="translate(1000.98,985.1) scale(1,1.08)" font-size="15" text-anchor="middle" fill="#1a1a1a" stroke="#1a1a1a" stroke-width="0.35">600</text>
<path d="M1090.24 962.8v-4.5M1090.24 536.6v4.5" stroke="#333333" stroke-width="1"/>
<text transform="translate(1090.24,985.1) scale(1,1.08)" font-size="15" text-anchor="middle" fill="#1a1a1a" stroke="#1a1a1a" stroke-width="0.35">800</text>
<path d="M1179.5 962.8v-4.5M1179.5 536.6v4.5" stroke="#333333" stroke-width="1"/>
<text transform="translate(1179.5,985.1) scale(1,1.08)" font-size="15" text-anchor="middle" fill="#1a1a1a" stroke="#1a1a1a" stroke-width="0.35">1000</text>
<path d="M733.2 936.52h4.5M1179.5 936.52h-4.5" stroke="#333333" stroke-width="1"/>
<path d="M733.2 879.39h4.5M1179.5 879.39h-4.5" stroke="#333333" stroke-width="1"/>
<path d="M733.2 822.26h4.5M1179.5 822.26h-4.5" stroke="#333333" stroke-width="1"/>
<path d="M733.2 765.13h4.5M1179.5 765.13h-4.5" stroke="#333333" stroke-width="1"/>
<path d="M733.2 707.99h4.5M1179.5 707.99h-4.5" stroke="#333333" stroke-width="1"/>
<path d="M733.2 650.86h4.5M1179.5 650.86h-4.5" stroke="#333333" stroke-width="1"/>
<path d="M733.2 593.73h4.5M1179.5 593.73h-4.5" stroke="#333333" stroke-width="1"/>
<path d="M733.2 536.6h4.5M1179.5 536.6h-4.5" stroke="#333333" stroke-width="1"/>
<path d="M733.2 959.37h2.5M1179.5 959.37h-2.5" stroke="#333333" stroke-width="1"/>
<path d="M733.2 947.95h2.5M1179.5 947.95h-2.5" stroke="#333333" stroke-width="1"/>
<path d="M733.2 925.09h2.5M1179.5 925.09h-2.5" stroke="#333333" stroke-width="1"/>
<path d="M733.2 913.67h2.5M1179.5 913.67h-2.5" stroke="#333333" stroke-width="1"/>
<path d="M733.2 902.24h2.5M1179.5 902.24h-2.5" stroke="#333333" stroke-width="1"/>
<path d="M733.2 890.81h2.5M1179.5 890.81h-2.5" stroke="#333333" stroke-width="1"/>
<path d="M733.2 867.96h2.5M1179.5 867.96h-2.5" stroke="#333333" stroke-width="1"/>
<path d="M733.2 856.54h2.5M1179.5 856.54h-2.5" stroke="#333333" stroke-width="1"/>
<path d="M733.2 845.11h2.5M1179.5 845.11h-2.5" stroke="#333333" stroke-width="1"/>
<path d="M733.2 833.68h2.5M1179.5 833.68h-2.5" stroke="#333333" stroke-width="1"/>
<path d="M733.2 810.83h2.5M1179.5 810.83h-2.5" stroke="#333333" stroke-width="1"/>
<path d="M733.2 799.4h2.5M1179.5 799.4h-2.5" stroke="#333333" stroke-width="1"/>
<path d="M733.2 787.98h2.5M1179.5 787.98h-2.5" stroke="#333333" stroke-width="1"/>
<path d="M733.2 776.55h2.5M1179.5 776.55h-2.5" stroke="#333333" stroke-width="1"/>
<path d="M733.2 753.7h2.5M1179.5 753.7h-2.5" stroke="#333333" stroke-width="1"/>
<path d="M733.2 742.27h2.5M1179.5 742.27h-2.5" stroke="#333333" stroke-width="1"/>
<path d="M733.2 730.85h2.5M1179.5 730.85h-2.5" stroke="#333333" stroke-width="1"/>
<path d="M733.2 719.42h2.5M1179.5 719.42h-2.5" stroke="#333333" stroke-width="1"/>
<path d="M733.2 696.57h2.5M1179.5 696.57h-2.5" stroke="#333333" stroke-width="1"/>
<path d="M733.2 685.14h2.5M1179.5 685.14h-2.5" stroke="#333333" stroke-width="1"/>
<path d="M733.2 673.72h2.5M1179.5 673.72h-2.5" stroke="#333333" stroke-width="1"/>
<path d="M733.2 662.29h2.5M1179.5 662.29h-2.5" stroke="#333333" stroke-width="1"/>
<path d="M733.2 639.44h2.5M1179.5 639.44h-2.5" stroke="#333333" stroke-width="1"/>
<path d="M733.2 628.01h2.5M1179.5 628.01h-2.5" stroke="#333333" stroke-width="1"/>
<path d="M733.2 616.58h2.5M1179.5 616.58h-2.5" stroke="#333333" stroke-width="1"/>
<path d="M733.2 605.16h2.5M1179.5 605.16h-2.5" stroke="#333333" stroke-width="1"/>
<path d="M733.2 582.31h2.5M1179.5 582.31h-2.5" stroke="#333333" stroke-width="1"/>
<path d="M733.2 570.88h2.5M1179.5 570.88h-2.5" stroke="#333333" stroke-width="1"/>
<path d="M733.2 559.45h2.5M1179.5 559.45h-2.5" stroke="#333333" stroke-width="1"/>
<path d="M733.2 548.03h2.5M1179.5 548.03h-2.5" stroke="#333333" stroke-width="1"/>
<clipPath id="cF4"><rect x="730.2" y="533.6" width="452.3" height="432.2"/></clipPath>
<g clip-path="url(#cF4)" fill="none" stroke-linejoin="round" stroke-linecap="butt">
<polyline points="733,593 843.8,595 900,595.5" stroke="#00ff00" stroke-width="4.8"/>
<polyline points="733,644.4 733.6,674.8 734.3,697.9 735.3,720 735.9,754.4 737.4,756 738.2,820 738.8,860 739.2,880.2 740.7,947.7" stroke="#000000" stroke-width="5"/>
<polyline points="733,593 970,595 1180,595.9" stroke="#0000ff" stroke-width="4.5"/>
<polyline points="733,593 970,594.5 1180,595.5" stroke="#ff00ff" stroke-width="4"/>
<polyline points="733,591.3 970,591.9 1180,592.3" stroke="#00ffff" stroke-width="5.2"/>
<polyline points="733,593 741,598.2 770.4,600.3 787.2,603.5 825,602.4 877.4,602.4 919.4,604.5 944.6,609.8 953,616 970.9,628.3 985.5,633.5 991.8,639.8 1008.5,655.4 1012.7,663.8 1033.6,682.6 1042,691 1054.5,707.7 1069.2,719.2 1180,719.2" stroke="#7f7f4c" stroke-width="5"/>
<polyline points="733,591.3 772.5,596.1 825,602.4 877.4,607.7 930,611.9 970,614.4 1002.3,616.1 1052.4,617.4 1180,618.2" stroke="#ff0000" stroke-width="5.2"/>
</g>
<text transform="translate(726.2,537.4) scale(1,1.0)" font-size="12.5" text-anchor="end" fill="#1a1a1a" stroke="#1a1a1a" stroke-width="0.35">50</text>
<text transform="translate(711.69,544.9) scale(1,1.0)" font-size="15.1" text-anchor="end" fill="#1a1a1a" stroke="#1a1a1a" stroke-width="0.35">10</text>
<text transform="translate(726.2,594.53) scale(1,1.0)" font-size="12.5" text-anchor="end" fill="#1a1a1a" stroke="#1a1a1a" stroke-width="0.35">0</text>
<text transform="translate(718.65,602.03) scale(1,1.0)" font-size="15.1" text-anchor="end" fill="#1a1a1a" stroke="#1a1a1a" stroke-width="0.35">10</text>
<text transform="translate(726.2,651.66) scale(1,1.0)" font-size="12.5" text-anchor="end" fill="#1a1a1a" stroke="#1a1a1a" stroke-width="0.35">-50</text>
<text transform="translate(707.54,659.16) scale(1,1.0)" font-size="15.1" text-anchor="end" fill="#1a1a1a" stroke="#1a1a1a" stroke-width="0.35">10</text>
<text transform="translate(726.2,708.79) scale(1,1.0)" font-size="12.5" text-anchor="end" fill="#1a1a1a" stroke="#1a1a1a" stroke-width="0.35">-100</text>
<text transform="translate(700.58,716.29) scale(1,1.0)" font-size="15.1" text-anchor="end" fill="#1a1a1a" stroke="#1a1a1a" stroke-width="0.35">10</text>
<text transform="translate(726.2,765.93) scale(1,1.0)" font-size="12.5" text-anchor="end" fill="#1a1a1a" stroke="#1a1a1a" stroke-width="0.35">-150</text>
<text transform="translate(700.58,773.43) scale(1,1.0)" font-size="15.1" text-anchor="end" fill="#1a1a1a" stroke="#1a1a1a" stroke-width="0.35">10</text>
<text transform="translate(726.2,823.06) scale(1,1.0)" font-size="12.5" text-anchor="end" fill="#1a1a1a" stroke="#1a1a1a" stroke-width="0.35">-200</text>
<text transform="translate(700.58,830.56) scale(1,1.0)" font-size="15.1" text-anchor="end" fill="#1a1a1a" stroke="#1a1a1a" stroke-width="0.35">10</text>
<text transform="translate(726.2,880.19) scale(1,1.0)" font-size="12.5" text-anchor="end" fill="#1a1a1a" stroke="#1a1a1a" stroke-width="0.35">-250</text>
<text transform="translate(700.58,887.69) scale(1,1.0)" font-size="15.1" text-anchor="end" fill="#1a1a1a" stroke="#1a1a1a" stroke-width="0.35">10</text>
<text transform="translate(726.2,937.32) scale(1,1.0)" font-size="12.5" text-anchor="end" fill="#1a1a1a" stroke="#1a1a1a" stroke-width="0.35">-300</text>
<text transform="translate(700.58,944.82) scale(1,1.0)" font-size="15.1" text-anchor="end" fill="#1a1a1a" stroke="#1a1a1a" stroke-width="0.35">10</text>
<text transform="translate(956.35,529.2) scale(1,1.13)" font-size="20.5" text-anchor="middle" fill="#000" stroke="#000" stroke-width="0.35">F4</text>
<text transform="translate(956.35,1012.3) scale(1,0.99)" font-size="22" text-anchor="middle" fill="#1a1a1a" stroke="#1a1a1a" stroke-width="0.35">Number of iteration</text>
<text transform="translate(672.6,749.7) rotate(-90)" x="0" y="0" font-size="22" text-anchor="middle" fill="#1a1a1a" stroke="#1a1a1a" stroke-width="0.35" style="white-space:pre">Best  fitness  so  far</text>
<rect x="1052.4" y="548.8" width="115.5" height="157.9" fill="#fff" stroke="#333333" stroke-width="1"/>
<path d="M1057.1 560.1H1103.6" stroke="#00ff00" stroke-width="4.8"/>
<text transform="translate(1107.2,565.7) scale(1,1.04)" font-size="13.8" fill="#000" stroke="#000" stroke-width="0.35">PDO</text>
<path d="M1057.1 579.43H1103.6" stroke="#000000" stroke-width="4.8"/>
<text transform="translate(1107.2,585.03) scale(1,1.04)" font-size="13.8" fill="#000" stroke="#000" stroke-width="0.35">IMSPDO</text>
<path d="M1057.1 598.76H1103.6" stroke="#0000ff" stroke-width="4.8"/>
<text transform="translate(1107.2,604.36) scale(1,1.04)" font-size="13.8" fill="#000" stroke="#000" stroke-width="0.35">SA</text>
<path d="M1057.1 618.09H1103.6" stroke="#ffff00" stroke-width="4.8"/>
<text transform="translate(1107.2,623.69) scale(1,1.04)" font-size="13.8" fill="#000" stroke="#000" stroke-width="0.35">PSO</text>
<path d="M1057.1 637.41H1103.6" stroke="#ff00ff" stroke-width="4.8"/>
<text transform="translate(1107.2,643.01) scale(1,1.04)" font-size="13.8" fill="#000" stroke="#000" stroke-width="0.35">DE</text>
<path d="M1057.1 656.74H1103.6" stroke="#00ffff" stroke-width="4.8"/>
<text transform="translate(1107.2,662.34) scale(1,1.04)" font-size="13.8" fill="#000" stroke="#000" stroke-width="0.35">GA</text>
<path d="M1057.1 676.07H1103.6" stroke="#7f7f4c" stroke-width="4.8"/>
<text transform="translate(1107.2,681.67) scale(1,1.04)" font-size="13.8" fill="#000" stroke="#000" stroke-width="0.35">HHO</text>
<path d="M1057.1 695.4H1103.6" stroke="#ff0000" stroke-width="4.8"/>
<text transform="translate(1107.2,701) scale(1,1.04)" font-size="13.8" fill="#000" stroke="#000" stroke-width="0.35">GWO</text>
<rect x="83.5" y="1091.1" width="444.1" height="420.9" fill="none" stroke="#333333" stroke-width="1.3"/>
<path d="M83.5 1512v-4.5M83.5 1091.1v4.5" stroke="#333333" stroke-width="1"/>
<text transform="translate(83.5,1534.3) scale(1,1.08)" font-size="15" text-anchor="middle" fill="#1a1a1a" stroke="#1a1a1a" stroke-width="0.35">0</text>
<path d="M172.32 1512v-4.5M172.32 1091.1v4.5" stroke="#333333" stroke-width="1"/>
<text transform="translate(172.32,1534.3) scale(1,1.08)" font-size="15" text-anchor="middle" fill="#1a1a1a" stroke="#1a1a1a" stroke-width="0.35">200</text>
<path d="M261.14 1512v-4.5M261.14 1091.1v4.5" stroke="#333333" stroke-width="1"/>
<text transform="translate(261.14,1534.3) scale(1,1.08)" font-size="15" text-anchor="middle" fill="#1a1a1a" stroke="#1a1a1a" stroke-width="0.35">400</text>
<path d="M349.96 1512v-4.5M349.96 1091.1v4.5" stroke="#333333" stroke-width="1"/>
<text transform="translate(349.96,1534.3) scale(1,1.08)" font-size="15" text-anchor="middle" fill="#1a1a1a" stroke="#1a1a1a" stroke-width="0.35">600</text>
<path d="M438.78 1512v-4.5M438.78 1091.1v4.5" stroke="#333333" stroke-width="1"/>
<text transform="translate(438.78,1534.3) scale(1,1.08)" font-size="15" text-anchor="middle" fill="#1a1a1a" stroke="#1a1a1a" stroke-width="0.35">800</text>
<path d="M527.6 1512v-4.5M527.6 1091.1v4.5" stroke="#333333" stroke-width="1"/>
<text transform="translate(527.6,1534.3) scale(1,1.08)" font-size="15" text-anchor="middle" fill="#1a1a1a" stroke="#1a1a1a" stroke-width="0.35">1000</text>
<path d="M83.5 1512h4.5M527.6 1512h-4.5" stroke="#333333" stroke-width="1"/>
<path d="M83.5 1459.39h4.5M527.6 1459.39h-4.5" stroke="#333333" stroke-width="1"/>
<path d="M83.5 1406.78h4.5M527.6 1406.78h-4.5" stroke="#333333" stroke-width="1"/>
<path d="M83.5 1354.16h4.5M527.6 1354.16h-4.5" stroke="#333333" stroke-width="1"/>
<path d="M83.5 1301.55h4.5M527.6 1301.55h-4.5" stroke="#333333" stroke-width="1"/>
<path d="M83.5 1248.94h4.5M527.6 1248.94h-4.5" stroke="#333333" stroke-width="1"/>
<path d="M83.5 1196.32h4.5M527.6 1196.32h-4.5" stroke="#333333" stroke-width="1"/>
<path d="M83.5 1143.71h4.5M527.6 1143.71h-4.5" stroke="#333333" stroke-width="1"/>
<path d="M83.5 1091.1h4.5M527.6 1091.1h-4.5" stroke="#333333" stroke-width="1"/>
<path d="M83.5 1504.08h2.5M527.6 1504.08h-2.5" stroke="#333333" stroke-width="1"/>
<path d="M83.5 1499.45h2.5M527.6 1499.45h-2.5" stroke="#333333" stroke-width="1"/>
<path d="M83.5 1496.16h2.5M527.6 1496.16h-2.5" stroke="#333333" stroke-width="1"/>
<path d="M83.5 1493.61h2.5M527.6 1493.61h-2.5" stroke="#333333" stroke-width="1"/>
<path d="M83.5 1491.53h2.5M527.6 1491.53h-2.5" stroke="#333333" stroke-width="1"/>
<path d="M83.5 1489.77h2.5M527.6 1489.77h-2.5" stroke="#333333" stroke-width="1"/>
<path d="M83.5 1488.24h2.5M527.6 1488.24h-2.5" stroke="#333333" stroke-width="1"/>
<path d="M83.5 1486.9h2.5M527.6 1486.9h-2.5" stroke="#333333" stroke-width="1"/>
<path d="M83.5 1477.77h2.5M527.6 1477.77h-2.5" stroke="#333333" stroke-width="1"/>
<path d="M83.5 1473.14h2.5M527.6 1473.14h-2.5" stroke="#333333" stroke-width="1"/>
<path d="M83.5 1469.86h2.5M527.6 1469.86h-2.5" stroke="#333333" stroke-width="1"/>
<path d="M83.5 1467.31h2.5M527.6 1467.31h-2.5" stroke="#333333" stroke-width="1"/>
<path d="M83.5 1465.22h2.5M527.6 1465.22h-2.5" stroke="#333333" stroke-width="1"/>
<path d="M83.5 1463.46h2.5M527.6 1463.46h-2.5" stroke="#333333" stroke-width="1"/>
<path d="M83.5 1461.94h2.5M527.6 1461.94h-2.5" stroke="#333333" stroke-width="1"/>
<path d="M83.5 1460.59h2.5M527.6 1460.59h-2.5" stroke="#333333" stroke-width="1"/>
<path d="M83.5 1451.47h2.5M527.6 1451.47h-2.5" stroke="#333333" stroke-width="1"/>
<path d="M83.5 1446.84h2.5M527.6 1446.84h-2.5" stroke="#333333" stroke-width="1"/>
<path d="M83.5 1443.55h2.5M527.6 1443.55h-2.5" stroke="#333333" stroke-width="1"/>
<path d="M83.5 1441h2.5M527.6 1441h-2.5" stroke="#333333" stroke-width="1"/>
<path d="M83.5 1438.92h2.5M527.6 1438.92h-2.5" stroke="#333333" stroke-width="1"/>
<path d="M83.5 1437.16h2.5M527.6 1437.16h-2.5" stroke="#333333" stroke-width="1"/>
<path d="M83.5 1435.63h2.5M527.6 1435.63h-2.5" stroke="#333333" stroke-width="1"/>
<path d="M83.5 1434.28h2.5M527.6 1434.28h-2.5" stroke="#333333" stroke-width="1"/>
<path d="M83.5 1425.16h2.5M527.6 1425.16h-2.5" stroke="#333333" stroke-width="1"/>
<path d="M83.5 1420.53h2.5M527.6 1420.53h-2.5" stroke="#333333" stroke-width="1"/>
<path d="M83.5 1417.24h2.5M527.6 1417.24h-2.5" stroke="#333333" stroke-width="1"/>
<path d="M83.5 1414.69h2.5M527.6 1414.69h-2.5" stroke="#333333" stroke-width="1"/>
<path d="M83.5 1412.61h2.5M527.6 1412.61h-2.5" stroke="#333333" stroke-width="1"/>
<path d="M83.5 1410.85h2.5M527.6 1410.85h-2.5" stroke="#333333" stroke-width="1"/>
<path d="M83.5 1409.32h2.5M527.6 1409.32h-2.5" stroke="#333333" stroke-width="1"/>
<path d="M83.5 1407.98h2.5M527.6 1407.98h-2.5" stroke="#333333" stroke-width="1"/>
<path d="M83.5 1398.86h2.5M527.6 1398.86h-2.5" stroke="#333333" stroke-width="1"/>
<path d="M83.5 1394.22h2.5M527.6 1394.22h-2.5" stroke="#333333" stroke-width="1"/>
<path d="M83.5 1390.94h2.5M527.6 1390.94h-2.5" stroke="#333333" stroke-width="1"/>
<path d="M83.5 1388.39h2.5M527.6 1388.39h-2.5" stroke="#333333" stroke-width="1"/>
<path d="M83.5 1386.3h2.5M527.6 1386.3h-2.5" stroke="#333333" stroke-width="1"/>
<path d="M83.5 1384.54h2.5M527.6 1384.54h-2.5" stroke="#333333" stroke-width="1"/>
<path d="M83.5 1383.02h2.5M527.6 1383.02h-2.5" stroke="#333333" stroke-width="1"/>
<path d="M83.5 1381.67h2.5M527.6 1381.67h-2.5" stroke="#333333" stroke-width="1"/>
<path d="M83.5 1372.55h2.5M527.6 1372.55h-2.5" stroke="#333333" stroke-width="1"/>
<path d="M83.5 1367.92h2.5M527.6 1367.92h-2.5" stroke="#333333" stroke-width="1"/>
<path d="M83.5 1364.63h2.5M527.6 1364.63h-2.5" stroke="#333333" stroke-width="1"/>
<path d="M83.5 1362.08h2.5M527.6 1362.08h-2.5" stroke="#333333" stroke-width="1"/>
<path d="M83.5 1360h2.5M527.6 1360h-2.5" stroke="#333333" stroke-width="1"/>
<path d="M83.5 1358.24h2.5M527.6 1358.24h-2.5" stroke="#333333" stroke-width="1"/>
<path d="M83.5 1356.71h2.5M527.6 1356.71h-2.5" stroke="#333333" stroke-width="1"/>
<path d="M83.5 1355.37h2.5M527.6 1355.37h-2.5" stroke="#333333" stroke-width="1"/>
<path d="M83.5 1346.24h2.5M527.6 1346.24h-2.5" stroke="#333333" stroke-width="1"/>
<path d="M83.5 1341.61h2.5M527.6 1341.61h-2.5" stroke="#333333" stroke-width="1"/>
<path d="M83.5 1338.32h2.5M527.6 1338.32h-2.5" stroke="#333333" stroke-width="1"/>
<path d="M83.5 1335.78h2.5M527.6 1335.78h-2.5" stroke="#333333" stroke-width="1"/>
<path d="M83.5 1333.69h2.5M527.6 1333.69h-2.5" stroke="#333333" stroke-width="1"/>
<path d="M83.5 1331.93h2.5M527.6 1331.93h-2.5" stroke="#333333" stroke-width="1"/>
<path d="M83.5 1330.41h2.5M527.6 1330.41h-2.5" stroke="#333333" stroke-width="1"/>
<path d="M83.5 1329.06h2.5M527.6 1329.06h-2.5" stroke="#333333" stroke-width="1"/>
<path d="M83.5 1319.94h2.5M527.6 1319.94h-2.5" stroke="#333333" stroke-width="1"/>
<path d="M83.5 1315.3h2.5M527.6 1315.3h-2.5" stroke="#333333" stroke-width="1"/>
<path d="M83.5 1312.02h2.5M527.6 1312.02h-2.5" stroke="#333333" stroke-width="1"/>
<path d="M83.5 1309.47h2.5M527.6 1309.47h-2.5" stroke="#333333" stroke-width="1"/>
<path d="M83.5 1307.39h2.5M527.6 1307.39h-2.5" stroke="#333333" stroke-width="1"/>
<path d="M83.5 1305.62h2.5M527.6 1305.62h-2.5" stroke="#333333" stroke-width="1"/>
<path d="M83.5 1304.1h2.5M527.6 1304.1h-2.5" stroke="#333333" stroke-width="1"/>
<path d="M83.5 1302.75h2.5M527.6 1302.75h-2.5" stroke="#333333" stroke-width="1"/>
<path d="M83.5 1293.63h2.5M527.6 1293.63h-2.5" stroke="#333333" stroke-width="1"/>
<path d="M83.5 1289h2.5M527.6 1289h-2.5" stroke="#333333" stroke-width="1"/>
<path d="M83.5 1285.71h2.5M527.6 1285.71h-2.5" stroke="#333333" stroke-width="1"/>
<path d="M83.5 1283.16h2.5M527.6 1283.16h-2.5" stroke="#333333" stroke-width="1"/>
<path d="M83.5 1281.08h2.5M527.6 1281.08h-2.5" stroke="#333333" stroke-width="1"/>
<path d="M83.5 1279.32h2.5M527.6 1279.32h-2.5" stroke="#333333" stroke-width="1"/>
<path d="M83.5 1277.79h2.5M527.6 1277.79h-2.5" stroke="#333333" stroke-width="1"/>
<path d="M83.5 1276.45h2.5M527.6 1276.45h-2.5" stroke="#333333" stroke-width="1"/>
<path d="M83.5 1267.32h2.5M527.6 1267.32h-2.5" stroke="#333333" stroke-width="1"/>
<path d="M83.5 1262.69h2.5M527.6 1262.69h-2.5" stroke="#333333" stroke-width="1"/>
<path d="M83.5 1259.41h2.5M527.6 1259.41h-2.5" stroke="#333333" stroke-width="1"/>
<path d="M83.5 1256.86h2.5M527.6 1256.86h-2.5" stroke="#333333" stroke-width="1"/>
<path d="M83.5 1254.77h2.5M527.6 1254.77h-2.5" stroke="#333333" stroke-width="1"/>
<path d="M83.5 1253.01h2.5M527.6 1253.01h-2.5" stroke="#333333" stroke-width="1"/>
<path d="M83.5 1251.49h2.5M527.6 1251.49h-2.5" stroke="#333333" stroke-width="1"/>
<path d="M83.5 1250.14h2.5M527.6 1250.14h-2.5" stroke="#333333" stroke-width="1"/>
<path d="M83.5 1241.02h2.5M527.6 1241.02h-2.5" stroke="#333333" stroke-width="1"/>
<path d="M83.5 1236.39h2.5M527.6 1236.39h-2.5" stroke="#333333" stroke-width="1"/>
<path d="M83.5 1233.1h2.5M527.6 1233.1h-2.5" stroke="#333333" stroke-width="1"/>
<path d="M83.5 1230.55h2.5M527.6 1230.55h-2.5" stroke="#333333" stroke-width="1"/>
<path d="M83.5 1228.47h2.5M527.6 1228.47h-2.5" stroke="#333333" stroke-width="1"/>
<path d="M83.5 1226.71h2.5M527.6 1226.71h-2.5" stroke="#333333" stroke-width="1"/>
<path d="M83.5 1225.18h2.5M527.6 1225.18h-2.5" stroke="#333333" stroke-width="1"/>
<path d="M83.5 1223.83h2.5M527.6 1223.83h-2.5" stroke="#333333" stroke-width="1"/>
<path d="M83.5 1214.71h2.5M527.6 1214.71h-2.5" stroke="#333333" stroke-width="1"/>
<path d="M83.5 1210.08h2.5M527.6 1210.08h-2.5" stroke="#333333" stroke-width="1"/>
<path d="M83.5 1206.79h2.5M527.6 1206.79h-2.5" stroke="#333333" stroke-width="1"/>
<path d="M83.5 1204.24h2.5M527.6 1204.24h-2.5" stroke="#333333" stroke-width="1"/>
<path d="M83.5 1202.16h2.5M527.6 1202.16h-2.5" stroke="#333333" stroke-width="1"/>
<path d="M83.5 1200.4h2.5M527.6 1200.4h-2.5" stroke="#333333" stroke-width="1"/>
<path d="M83.5 1198.87h2.5M527.6 1198.87h-2.5" stroke="#333333" stroke-width="1"/>
<path d="M83.5 1197.53h2.5M527.6 1197.53h-2.5" stroke="#333333" stroke-width="1"/>
<path d="M83.5 1188.41h2.5M527.6 1188.41h-2.5" stroke="#333333" stroke-width="1"/>
<path d="M83.5 1183.77h2.5M527.6 1183.77h-2.5" stroke="#333333" stroke-width="1"/>
<path d="M83.5 1180.49h2.5M527.6 1180.49h-2.5" stroke="#333333" stroke-width="1"/>
<path d="M83.5 1177.94h2.5M527.6 1177.94h-2.5" stroke="#333333" stroke-width="1"/>
<path d="M83.5 1175.85h2.5M527.6 1175.85h-2.5" stroke="#333333" stroke-width="1"/>
<path d="M83.5 1174.09h2.5M527.6 1174.09h-2.5" stroke="#333333" stroke-width="1"/>
<path d="M83.5 1172.57h2.5M527.6 1172.57h-2.5" stroke="#333333" stroke-width="1"/>
<path d="M83.5 1171.22h2.5M527.6 1171.22h-2.5" stroke="#333333" stroke-width="1"/>
<path d="M83.5 1162.1h2.5M527.6 1162.1h-2.5" stroke="#333333" stroke-width="1"/>
<path d="M83.5 1157.47h2.5M527.6 1157.47h-2.5" stroke="#333333" stroke-width="1"/>
<path d="M83.5 1154.18h2.5M527.6 1154.18h-2.5" stroke="#333333" stroke-width="1"/>
<path d="M83.5 1151.63h2.5M527.6 1151.63h-2.5" stroke="#333333" stroke-width="1"/>
<path d="M83.5 1149.55h2.5M527.6 1149.55h-2.5" stroke="#333333" stroke-width="1"/>
<path d="M83.5 1147.79h2.5M527.6 1147.79h-2.5" stroke="#333333" stroke-width="1"/>
<path d="M83.5 1146.26h2.5M527.6 1146.26h-2.5" stroke="#333333" stroke-width="1"/>
<path d="M83.5 1144.92h2.5M527.6 1144.92h-2.5" stroke="#333333" stroke-width="1"/>
<path d="M83.5 1135.79h2.5M527.6 1135.79h-2.5" stroke="#333333" stroke-width="1"/>
<path d="M83.5 1131.16h2.5M527.6 1131.16h-2.5" stroke="#333333" stroke-width="1"/>
<path d="M83.5 1127.87h2.5M527.6 1127.87h-2.5" stroke="#333333" stroke-width="1"/>
<path d="M83.5 1125.33h2.5M527.6 1125.33h-2.5" stroke="#333333" stroke-width="1"/>
<path d="M83.5 1123.24h2.5M527.6 1123.24h-2.5" stroke="#333333" stroke-width="1"/>
<path d="M83.5 1121.48h2.5M527.6 1121.48h-2.5" stroke="#333333" stroke-width="1"/>
<path d="M83.5 1119.96h2.5M527.6 1119.96h-2.5" stroke="#333333" stroke-width="1"/>
<path d="M83.5 1118.61h2.5M527.6 1118.61h-2.5" stroke="#333333" stroke-width="1"/>
<path d="M83.5 1109.49h2.5M527.6 1109.49h-2.5" stroke="#333333" stroke-width="1"/>
<path d="M83.5 1104.85h2.5M527.6 1104.85h-2.5" stroke="#333333" stroke-width="1"/>
<path d="M83.5 1101.57h2.5M527.6 1101.57h-2.5" stroke="#333333" stroke-width="1"/>
<path d="M83.5 1099.02h2.5M527.6 1099.02h-2.5" stroke="#333333" stroke-width="1"/>
<path d="M83.5 1096.94h2.5M527.6 1096.94h-2.5" stroke="#333333" stroke-width="1"/>
<path d="M83.5 1095.17h2.5M527.6 1095.17h-2.5" stroke="#333333" stroke-width="1"/>
<path d="M83.5 1093.65h2.5M527.6 1093.65h-2.5" stroke="#333333" stroke-width="1"/>
<path d="M83.5 1092.3h2.5M527.6 1092.3h-2.5" stroke="#333333" stroke-width="1"/>
<clipPath id="cF5"><rect x="80.5" y="1088.1" width="450.1" height="426.9"/></clipPath>
<g clip-path="url(#cF5)" fill="none" stroke-linejoin="round" stroke-linecap="butt">
<polyline points="83.7,1128 85.5,1160 87,1200 89,1240 91,1257 92.5,1258.9 123.4,1258.9 124.7,1264.3 193.2,1264.3 194.6,1275 527.5,1276.6" stroke="#00ff00" stroke-width="7.2"/>
<polyline points="83.7,1290 84.4,1307.5 87.1,1329 88.4,1350.5 115.3,1350.5 116,1373.4 119.3,1374.7 132.8,1376 132.8,1395.4 137.5,1396.1 138.1,1405.5 193.2,1405.5 193.9,1427 293.5,1427 294.2,1441.8 339.2,1441.8 339.9,1464.4 527.5,1464.4" stroke="#000000" stroke-width="4.6"/>
<polyline points="84,1140 88.5,1215 90.5,1243 94.5,1244 95.8,1255.2 96.5,1274 128.7,1274.6 130.1,1283.4 132.1,1307.5 135.5,1312.9 169,1313.6 305.6,1314.9 385,1315.6 527.5,1317" stroke="#0000ff" stroke-width="4.4"/>
<polyline points="86,1150 87.8,1173.7 88.4,1185.8 93.8,1187.1 94.5,1199.9 107.2,1200.5 120.7,1203.2 127.4,1205.9 128.1,1213.3 140.2,1213.3 140.8,1224.7 163.7,1225.4 165,1232.8 181.1,1233.4 183.8,1235.5 204,1236.1 210.7,1243.1 221.4,1245.7 224.1,1249.8 229.7,1251.1 230.4,1259.9 242.5,1261.2 243.8,1263.9 251.9,1270 253.2,1274 268,1274.6 375,1284.7 527.5,1288.7" stroke="#ffff00" stroke-width="4.4"/>
<polyline points="85,1125 87.8,1131.3 89.8,1133.4 91.8,1144.1 92.5,1168.3 95.8,1171 97.8,1179 101.9,1191.1 105.2,1197.8 105.9,1215.3 107.2,1220.7 112.6,1223.4 115.3,1227.4 120.7,1231.4 126,1234.1 128.7,1237.7 130.7,1247.1 143.5,1247.8 152.9,1250.4 166.3,1251.1 170.4,1255.8 190.5,1256.5 195.9,1260.5 225,1263.2 234.4,1263.9 237.1,1267.2 254.6,1267.2 257.2,1268.6 264,1269.3 264,1276 280.1,1276.6 281.4,1278.7 316.3,1278.7 324.4,1285.4 339.2,1286 348.6,1288.1 359.3,1289.4 389.8,1289.4 393.8,1292.1 443.5,1292.8 445.5,1295.5 469,1296.1 471.7,1298.1 490.5,1298.1 495.9,1300.2 502.6,1301.5 527.5,1301.5" stroke="#ff00ff" stroke-width="4.4"/>
<polyline points="84,1140 86.4,1153.5 105.9,1155.5 106.6,1164.9 116.6,1165.6 117.3,1179.7 150.2,1180.4 152.9,1184.4 167.7,1185.1 169,1201.9 195.9,1202.5 225,1203.2 264,1204.6 309.6,1205.2 311,1218 313.7,1224 345.9,1224.7 359.3,1227.4 376.8,1227.4 380.8,1229.4 402.9,1229.6 483.8,1258.5 490.5,1260.5 494.6,1268.6 502.6,1271.3 516,1275.3 527.5,1277.3" stroke="#00ffff" stroke-width="4.4"/>
<polyline points="83.7,1130 84.4,1235 88.4,1307.5 91.1,1310.2 91.1,1364 93.8,1369.3 95.1,1374.7 105.9,1375.4 109.9,1378.1 151.6,1378.1 152.9,1396.1 155.6,1411.6 179.8,1412.2 185.2,1418.3 276,1419 280.1,1421.6 527.5,1421.6" stroke="#7f7f4c" stroke-width="4.6"/>
<polyline points="83.7,1104.5 85.7,1165.6 88.4,1226 89.8,1245 89.8,1268.6 92.5,1276.6 99.2,1278.7 128.7,1278.7 155.6,1280 235,1280.7 305.6,1281.3 385,1282.3 527.5,1282.7" stroke="#ff0000" stroke-width="4.7"/>
</g>
<text transform="translate(76.5,1091.9) scale(1,1.0)" font-size="12.5" text-anchor="end" fill="#1a1a1a" stroke="#1a1a1a" stroke-width="0.35">8</text>
<text transform="translate(68.95,1099.4) scale(1,1.0)" font-size="14.8" text-anchor="end" fill="#1a1a1a" stroke="#1a1a1a" stroke-width="0.35">10</text>
<text transform="translate(76.5,1144.51) scale(1,1.0)" font-size="12.5" text-anchor="end" fill="#1a1a1a" stroke="#1a1a1a" stroke-width="0.35">6</text>
<text transform="translate(68.95,1152.01) scale(1,1.0)" font-size="14.8" text-anchor="end" fill="#1a1a1a" stroke="#1a1a1a" stroke-width="0.35">10</text>
<text transform="translate(76.5,1197.12) scale(1,1.0)" font-size="12.5" text-anchor="end" fill="#1a1a1a" stroke="#1a1a1a" stroke-width="0.35">4</text>
<text transform="translate(68.95,1204.62) scale(1,1.0)" font-size="14.8" text-anchor="end" fill="#1a1a1a" stroke="#1a1a1a" stroke-width="0.35">10</text>
<text transform="translate(76.5,1249.74) scale(1,1.0)" font-size="12.5" text-anchor="end" fill="#1a1a1a" stroke="#1a1a1a" stroke-width="0.35">2</text>
<text transform="translate(68.95,1257.24) scale(1,1.0)" font-size="14.8" text-anchor="end" fill="#1a1a1a" stroke="#1a1a1a" stroke-width="0.35">10</text>
<text transform="translate(76.5,1302.35) scale(1,1.0)" font-size="12.5" text-anchor="end" fill="#1a1a1a" stroke="#1a1a1a" stroke-width="0.35">0</text>
<text transform="translate(68.95,1309.85) scale(1,1.0)" font-size="14.8" text-anchor="end" fill="#1a1a1a" stroke="#1a1a1a" stroke-width="0.35">10</text>
<text transform="translate(76.5,1354.96) scale(1,1.0)" font-size="12.5" text-anchor="end" fill="#1a1a1a" stroke="#1a1a1a" stroke-width="0.35">-2</text>
<text transform="translate(64.79,1362.46) scale(1,1.0)" font-size="14.8" text-anchor="end" fill="#1a1a1a" stroke="#1a1a1a" stroke-width="0.35">10</text>
<text transform="translate(76.5,1407.58) scale(1,1.0)" font-size="12.5" text-anchor="end" fill="#1a1a1a" stroke="#1a1a1a" stroke-width="0.35">-4</text>
<text transform="translate(64.79,1415.08) scale(1,1.0)" font-size="14.8" text-anchor="end" fill="#1a1a1a" stroke="#1a1a1a" stroke-width="0.35">10</text>
<text transform="translate(76.5,1460.19) scale(1,1.0)" font-size="12.5" text-anchor="end" fill="#1a1a1a" stroke="#1a1a1a" stroke-width="0.35">-6</text>
<text transform="translate(64.79,1467.69) scale(1,1.0)" font-size="14.8" text-anchor="end" fill="#1a1a1a" stroke="#1a1a1a" stroke-width="0.35">10</text>
<text transform="translate(76.5,1512.8) scale(1,1.0)" font-size="12.5" text-anchor="end" fill="#1a1a1a" stroke="#1a1a1a" stroke-width="0.35">-8</text>
<text transform="translate(64.79,1520.3) scale(1,1.0)" font-size="14.8" text-anchor="end" fill="#1a1a1a" stroke="#1a1a1a" stroke-width="0.35">10</text>
<text transform="translate(309.25,1083.8) scale(1,1.13)" font-size="20.5" text-anchor="middle" fill="#000" stroke="#000" stroke-width="0.35">F5</text>
<text transform="translate(305.55,1560.6) scale(1,0.99)" font-size="21.5" text-anchor="middle" fill="#1a1a1a" stroke="#1a1a1a" stroke-width="0.35">Number of iteration</text>
<text transform="translate(39.3,1301.55) rotate(-90)" x="0" y="0" font-size="21.5" text-anchor="middle" fill="#1a1a1a" stroke="#1a1a1a" stroke-width="0.35" style="white-space:pre">Best  fitness  so  far</text>
<rect x="402.9" y="1102.9" width="112.9" height="155.2" fill="#fff" stroke="#333333" stroke-width="1"/>
<path d="M407.2 1114.3H453.3" stroke="#00ff00" stroke-width="7.4"/>
<text transform="translate(456.5,1119.9) scale(1,1.04)" font-size="13.8" fill="#000" stroke="#000" stroke-width="0.35">PDO</text>
<path d="M407.2 1133.21H453.3" stroke="#000000" stroke-width="4.6"/>
<text transform="translate(456.5,1138.81) scale(1,1.04)" font-size="13.8" fill="#000" stroke="#000" stroke-width="0.35">IMSPDO</text>
<path d="M407.2 1152.13H453.3" stroke="#0000ff" stroke-width="4.6"/>
<text transform="translate(456.5,1157.73) scale(1,1.04)" font-size="13.8" fill="#000" stroke="#000" stroke-width="0.35">SA</text>
<path d="M407.2 1171.04H453.3" stroke="#ffff00" stroke-width="4.6"/>
<text transform="translate(456.5,1176.64) scale(1,1.04)" font-size="13.8" fill="#000" stroke="#000" stroke-width="0.35">PSO</text>
<path d="M407.2 1189.96H453.3" stroke="#ff00ff" stroke-width="4.6"/>
<text transform="translate(456.5,1195.56) scale(1,1.04)" font-size="13.8" fill="#000" stroke="#000" stroke-width="0.35">DE</text>
<path d="M407.2 1208.87H453.3" stroke="#00ffff" stroke-width="4.6"/>
<text transform="translate(456.5,1214.47) scale(1,1.04)" font-size="13.8" fill="#000" stroke="#000" stroke-width="0.35">GA</text>
<path d="M407.2 1227.79H453.3" stroke="#7f7f4c" stroke-width="4.6"/>
<text transform="translate(456.5,1233.39) scale(1,1.04)" font-size="13.8" fill="#000" stroke="#000" stroke-width="0.35">HHO</text>
<path d="M407.2 1246.7H453.3" stroke="#ff0000" stroke-width="4.6"/>
<text transform="translate(456.5,1252.3) scale(1,1.04)" font-size="13.8" fill="#000" stroke="#000" stroke-width="0.35">GWO</text>
<rect x="728.3" y="1090.3" width="444.1" height="421" fill="none" stroke="#333333" stroke-width="1.3"/>
<path d="M728.3 1511.3v-4.5M728.3 1090.3v4.5" stroke="#333333" stroke-width="1"/>
<text transform="translate(728.3,1533.6) scale(1,1.08)" font-size="15" text-anchor="middle" fill="#1a1a1a" stroke="#1a1a1a" stroke-width="0.35">0</text>
<path d="M817.12 1511.3v-4.5M817.12 1090.3v4.5" stroke="#333333" stroke-width="1"/>
<text transform="translate(817.12,1533.6) scale(1,1.08)" font-size="15" text-anchor="middle" fill="#1a1a1a" stroke="#1a1a1a" stroke-width="0.35">200</text>
<path d="M905.94 1511.3v-4.5M905.94 1090.3v4.5" stroke="#333333" stroke-width="1"/>
<text transform="translate(905.94,1533.6) scale(1,1.08)" font-size="15" text-anchor="middle" fill="#1a1a1a" stroke="#1a1a1a" stroke-width="0.35">400</text>
<path d="M994.76 1511.3v-4.5M994.76 1090.3v4.5" stroke="#333333" stroke-width="1"/>
<text transform="translate(994.76,1533.6) scale(1,1.08)" font-size="15" text-anchor="middle" fill="#1a1a1a" stroke="#1a1a1a" stroke-width="0.35">600</text>
<path d="M1083.58 1511.3v-4.5M1083.58 1090.3v4.5" stroke="#333333" stroke-width="1"/>
<text transform="translate(1083.58,1533.6) scale(1,1.08)" font-size="15" text-anchor="middle" fill="#1a1a1a" stroke="#1a1a1a" stroke-width="0.35">800</text>
<path d="M1172.4 1511.3v-4.5M1172.4 1090.3v4.5" stroke="#333333" stroke-width="1"/>
<text transform="translate(1172.4,1533.6) scale(1,1.08)" font-size="15" text-anchor="middle" fill="#1a1a1a" stroke="#1a1a1a" stroke-width="0.35">1000</text>
<path d="M728.3 1511.3h4.5M1172.4 1511.3h-4.5" stroke="#333333" stroke-width="1"/>
<path d="M728.3 1451.16h4.5M1172.4 1451.16h-4.5" stroke="#333333" stroke-width="1"/>
<path d="M728.3 1391.01h4.5M1172.4 1391.01h-4.5" stroke="#333333" stroke-width="1"/>
<path d="M728.3 1330.87h4.5M1172.4 1330.87h-4.5" stroke="#333333" stroke-width="1"/>
<path d="M728.3 1270.73h4.5M1172.4 1270.73h-4.5" stroke="#333333" stroke-width="1"/>
<path d="M728.3 1210.59h4.5M1172.4 1210.59h-4.5" stroke="#333333" stroke-width="1"/>
<path d="M728.3 1150.44h4.5M1172.4 1150.44h-4.5" stroke="#333333" stroke-width="1"/>
<path d="M728.3 1090.3h4.5M1172.4 1090.3h-4.5" stroke="#333333" stroke-width="1"/>
<path d="M728.3 1493.2h2.5M1172.4 1493.2h-2.5" stroke="#333333" stroke-width="1"/>
<path d="M728.3 1482.6h2.5M1172.4 1482.6h-2.5" stroke="#333333" stroke-width="1"/>
<path d="M728.3 1475.09h2.5M1172.4 1475.09h-2.5" stroke="#333333" stroke-width="1"/>
<path d="M728.3 1469.26h2.5M1172.4 1469.26h-2.5" stroke="#333333" stroke-width="1"/>
<path d="M728.3 1464.5h2.5M1172.4 1464.5h-2.5" stroke="#333333" stroke-width="1"/>
<path d="M728.3 1460.47h2.5M1172.4 1460.47h-2.5" stroke="#333333" stroke-width="1"/>
<path d="M728.3 1456.99h2.5M1172.4 1456.99h-2.5" stroke="#333333" stroke-width="1"/>
<path d="M728.3 1453.91h2.5M1172.4 1453.91h-2.5" stroke="#333333" stroke-width="1"/>
<path d="M728.3 1433.05h2.5M1172.4 1433.05h-2.5" stroke="#333333" stroke-width="1"/>
<path d="M728.3 1422.46h2.5M1172.4 1422.46h-2.5" stroke="#333333" stroke-width="1"/>
<path d="M728.3 1414.95h2.5M1172.4 1414.95h-2.5" stroke="#333333" stroke-width="1"/>
<path d="M728.3 1409.12h2.5M1172.4 1409.12h-2.5" stroke="#333333" stroke-width="1"/>
<path d="M728.3 1404.36h2.5M1172.4 1404.36h-2.5" stroke="#333333" stroke-width="1"/>
<path d="M728.3 1400.33h2.5M1172.4 1400.33h-2.5" stroke="#333333" stroke-width="1"/>
<path d="M728.3 1396.84h2.5M1172.4 1396.84h-2.5" stroke="#333333" stroke-width="1"/>
<path d="M728.3 1393.77h2.5M1172.4 1393.77h-2.5" stroke="#333333" stroke-width="1"/>
<path d="M728.3 1372.91h2.5M1172.4 1372.91h-2.5" stroke="#333333" stroke-width="1"/>
<path d="M728.3 1362.32h2.5M1172.4 1362.32h-2.5" stroke="#333333" stroke-width="1"/>
<path d="M728.3 1354.8h2.5M1172.4 1354.8h-2.5" stroke="#333333" stroke-width="1"/>
<path d="M728.3 1348.98h2.5M1172.4 1348.98h-2.5" stroke="#333333" stroke-width="1"/>
<path d="M728.3 1344.21h2.5M1172.4 1344.21h-2.5" stroke="#333333" stroke-width="1"/>
<path d="M728.3 1340.19h2.5M1172.4 1340.19h-2.5" stroke="#333333" stroke-width="1"/>
<path d="M728.3 1336.7h2.5M1172.4 1336.7h-2.5" stroke="#333333" stroke-width="1"/>
<path d="M728.3 1333.62h2.5M1172.4 1333.62h-2.5" stroke="#333333" stroke-width="1"/>
<path d="M728.3 1312.77h2.5M1172.4 1312.77h-2.5" stroke="#333333" stroke-width="1"/>
<path d="M728.3 1302.18h2.5M1172.4 1302.18h-2.5" stroke="#333333" stroke-width="1"/>
<path d="M728.3 1294.66h2.5M1172.4 1294.66h-2.5" stroke="#333333" stroke-width="1"/>
<path d="M728.3 1288.83h2.5M1172.4 1288.83h-2.5" stroke="#333333" stroke-width="1"/>
<path d="M728.3 1284.07h2.5M1172.4 1284.07h-2.5" stroke="#333333" stroke-width="1"/>
<path d="M728.3 1280.04h2.5M1172.4 1280.04h-2.5" stroke="#333333" stroke-width="1"/>
<path d="M728.3 1276.56h2.5M1172.4 1276.56h-2.5" stroke="#333333" stroke-width="1"/>
<path d="M728.3 1273.48h2.5M1172.4 1273.48h-2.5" stroke="#333333" stroke-width="1"/>
<path d="M728.3 1252.62h2.5M1172.4 1252.62h-2.5" stroke="#333333" stroke-width="1"/>
<path d="M728.3 1242.03h2.5M1172.4 1242.03h-2.5" stroke="#333333" stroke-width="1"/>
<path d="M728.3 1234.52h2.5M1172.4 1234.52h-2.5" stroke="#333333" stroke-width="1"/>
<path d="M728.3 1228.69h2.5M1172.4 1228.69h-2.5" stroke="#333333" stroke-width="1"/>
<path d="M728.3 1223.93h2.5M1172.4 1223.93h-2.5" stroke="#333333" stroke-width="1"/>
<path d="M728.3 1219.9h2.5M1172.4 1219.9h-2.5" stroke="#333333" stroke-width="1"/>
<path d="M728.3 1216.41h2.5M1172.4 1216.41h-2.5" stroke="#333333" stroke-width="1"/>
<path d="M728.3 1213.34h2.5M1172.4 1213.34h-2.5" stroke="#333333" stroke-width="1"/>
<path d="M728.3 1192.48h2.5M1172.4 1192.48h-2.5" stroke="#333333" stroke-width="1"/>
<path d="M728.3 1181.89h2.5M1172.4 1181.89h-2.5" stroke="#333333" stroke-width="1"/>
<path d="M728.3 1174.38h2.5M1172.4 1174.38h-2.5" stroke="#333333" stroke-width="1"/>
<path d="M728.3 1168.55h2.5M1172.4 1168.55h-2.5" stroke="#333333" stroke-width="1"/>
<path d="M728.3 1163.79h2.5M1172.4 1163.79h-2.5" stroke="#333333" stroke-width="1"/>
<path d="M728.3 1159.76h2.5M1172.4 1159.76h-2.5" stroke="#333333" stroke-width="1"/>
<path d="M728.3 1156.27h2.5M1172.4 1156.27h-2.5" stroke="#333333" stroke-width="1"/>
<path d="M728.3 1153.19h2.5M1172.4 1153.19h-2.5" stroke="#333333" stroke-width="1"/>
<path d="M728.3 1132.34h2.5M1172.4 1132.34h-2.5" stroke="#333333" stroke-width="1"/>
<path d="M728.3 1121.75h2.5M1172.4 1121.75h-2.5" stroke="#333333" stroke-width="1"/>
<path d="M728.3 1114.23h2.5M1172.4 1114.23h-2.5" stroke="#333333" stroke-width="1"/>
<path d="M728.3 1108.4h2.5M1172.4 1108.4h-2.5" stroke="#333333" stroke-width="1"/>
<path d="M728.3 1103.64h2.5M1172.4 1103.64h-2.5" stroke="#333333" stroke-width="1"/>
<path d="M728.3 1099.62h2.5M1172.4 1099.62h-2.5" stroke="#333333" stroke-width="1"/>
<path d="M728.3 1096.13h2.5M1172.4 1096.13h-2.5" stroke="#333333" stroke-width="1"/>
<path d="M728.3 1093.05h2.5M1172.4 1093.05h-2.5" stroke="#333333" stroke-width="1"/>
<clipPath id="cF6"><rect x="725.3" y="1087.3" width="450.1" height="427"/></clipPath>
<g clip-path="url(#cF6)" fill="none" stroke-linejoin="round" stroke-linecap="butt">
<polyline points="728.1,1109.2 732.1,1114.6 734.8,1126.6 737.5,1132 744.2,1134.7 744.9,1156.2 745.5,1187.1 749.6,1189.8 752.2,1200.5 838.2,1201.2 838.9,1307.5 844.9,1310.2 845.6,1327.7 857,1329 858.4,1334.4 870.5,1335.1 871.1,1343.8 875.8,1345.2 877.4,1372 877.5,1417.6 1127.5,1417.6 1132.8,1422 1132.8,1443.8 1172.5,1443.8" stroke="#00ff00" stroke-width="6.8"/>
<polyline points="728.1,1200 728.5,1260 729.4,1294.1 733.4,1312.9 734.1,1331.7 739.5,1335.7 740.2,1379.4 761.6,1379.4 762.3,1400.8 867.8,1400.8 867.8,1446.5 1151.6,1446.5 1152.3,1462.6 1172.5,1462.6" stroke="#000000" stroke-width="4.5"/>
<polyline points="728.1,1150 736.1,1192.5 738.1,1198.5 773.7,1197.8 779.1,1200.5 784.5,1203.2 818.1,1203.2 818.7,1245 819.4,1255.8 1020,1257.2 1130.2,1259.2 1172.5,1259.2" stroke="#0000ff" stroke-width="4.4"/>
<polyline points="728.1,1150 737.5,1208.6 740.2,1222 748.2,1223.4 748.9,1245 750.2,1265.9 787.2,1266.6 788.5,1269.3 824.8,1270 828.8,1274 870,1286.7 883.4,1288.7 915.7,1289.4 917,1290.8 946.6,1291.4 980.2,1296.1 980.8,1337.8 1046.2,1337.8 1046.9,1346.5 1172.5,1347.2" stroke="#ffff00" stroke-width="4.4"/>
<polyline points="728.1,1140 733.4,1171 738.8,1212.6 744.2,1212.6 746.9,1219.3 752.2,1223.4 754.9,1228.7 764.3,1229.4 765.7,1248.4 776.4,1249.8 792.5,1251.8 795.2,1259.2 797.9,1261.2 851.6,1261.9 853,1275.3 861,1276 862.4,1282 909,1282 909,1292.8 953.3,1293.4 954,1317 1172.5,1317.6" stroke="#ff00ff" stroke-width="4.4"/>
<polyline points="729,1109 733.4,1165.6 737.5,1235 737.5,1255.2 742.2,1257.8 743.5,1264.6 750.2,1265.9 750.9,1283.4 756.3,1290.1 779.1,1291.4 781.8,1295.5 804.6,1296.1 974.8,1297.5 977.5,1300.2 995.6,1300.2 997,1315.6 1020,1317.6 1024,1323 1084.5,1323 1085.8,1331.7 1089.2,1333.1 1089.9,1344.5 1172.5,1344.5" stroke="#00ffff" stroke-width="4.4"/>
<polyline points="728.4,1109.2 728.7,1235 730.1,1290.1 738.8,1291.4 744.2,1303.5 745.5,1327.7 750.2,1328.4 750.9,1423.5 1172.5,1423.7" stroke="#7f7f4c" stroke-width="4.4"/>
<polyline points="728.1,1157.5 731.4,1235 732.1,1275.3 740.2,1277.3 740.8,1306.2 759.6,1306.2 760.3,1327.7 765.7,1328.4 766.3,1335.1 775.7,1335.7 776.4,1343.8 826.8,1343.8 827.5,1364 927.8,1364 928.4,1368.7 1024,1369.3 1024.7,1374.7 1054.3,1374.7 1054.9,1384.1 1118.1,1384.1 1120.1,1386.8 1172.5,1386.8" stroke="#ff0000" stroke-width="4.6"/>
</g>
<text transform="translate(721.3,1091.1) scale(1,1.0)" font-size="12.5" text-anchor="end" fill="#1a1a1a" stroke="#1a1a1a" stroke-width="0.35">1</text>
<text transform="translate(713.75,1098.6) scale(1,1.0)" font-size="14.8" text-anchor="end" fill="#1a1a1a" stroke="#1a1a1a" stroke-width="0.35">10</text>
<text transform="translate(721.3,1151.24) scale(1,1.0)" font-size="12.5" text-anchor="end" fill="#1a1a1a" stroke="#1a1a1a" stroke-width="0.35">0</text>
<text transform="translate(713.75,1158.74) scale(1,1.0)" font-size="14.8" text-anchor="end" fill="#1a1a1a" stroke="#1a1a1a" stroke-width="0.35">10</text>
<text transform="translate(721.3,1211.39) scale(1,1.0)" font-size="12.5" text-anchor="end" fill="#1a1a1a" stroke="#1a1a1a" stroke-width="0.35">-1</text>
<text transform="translate(709.59,1218.89) scale(1,1.0)" font-size="14.8" text-anchor="end" fill="#1a1a1a" stroke="#1a1a1a" stroke-width="0.35">10</text>
<text transform="translate(721.3,1271.53) scale(1,1.0)" font-size="12.5" text-anchor="end" fill="#1a1a1a" stroke="#1a1a1a" stroke-width="0.35">-2</text>
<text transform="translate(709.59,1279.03) scale(1,1.0)" font-size="14.8" text-anchor="end" fill="#1a1a1a" stroke="#1a1a1a" stroke-width="0.35">10</text>
<text transform="translate(721.3,1331.67) scale(1,1.0)" font-size="12.5" text-anchor="end" fill="#1a1a1a" stroke="#1a1a1a" stroke-width="0.35">-3</text>
<text transform="translate(709.59,1339.17) scale(1,1.0)" font-size="14.8" text-anchor="end" fill="#1a1a1a" stroke="#1a1a1a" stroke-width="0.35">10</text>
<text transform="translate(721.3,1391.81) scale(1,1.0)" font-size="12.5" text-anchor="end" fill="#1a1a1a" stroke="#1a1a1a" stroke-width="0.35">-4</text>
<text transform="translate(709.59,1399.31) scale(1,1.0)" font-size="14.8" text-anchor="end" fill="#1a1a1a" stroke="#1a1a1a" stroke-width="0.35">10</text>
<text transform="translate(721.3,1451.96) scale(1,1.0)" font-size="12.5" text-anchor="end" fill="#1a1a1a" stroke="#1a1a1a" stroke-width="0.35">-5</text>
<text transform="translate(709.59,1459.46) scale(1,1.0)" font-size="14.8" text-anchor="end" fill="#1a1a1a" stroke="#1a1a1a" stroke-width="0.35">10</text>
<text transform="translate(721.3,1512.1) scale(1,1.0)" font-size="12.5" text-anchor="end" fill="#1a1a1a" stroke="#1a1a1a" stroke-width="0.35">-6</text>
<text transform="translate(709.59,1519.6) scale(1,1.0)" font-size="14.8" text-anchor="end" fill="#1a1a1a" stroke="#1a1a1a" stroke-width="0.35">10</text>
<text transform="translate(953.15,1083) scale(1,1.13)" font-size="20.5" text-anchor="middle" fill="#000" stroke="#000" stroke-width="0.35">F6</text>
<text transform="translate(950.35,1559.9) scale(1,0.99)" font-size="21.5" text-anchor="middle" fill="#1a1a1a" stroke="#1a1a1a" stroke-width="0.35">Number of iteration</text>
<text transform="translate(683.7,1300.8) rotate(-90)" x="0" y="0" font-size="21.5" text-anchor="middle" fill="#1a1a1a" stroke="#1a1a1a" stroke-width="0.35" style="white-space:pre">Best  fitness  so  far</text>
<rect x="1047.5" y="1102.9" width="113.3" height="154.9" fill="#fff" stroke="#333333" stroke-width="1"/>
<path d="M1051.8 1114.3H1097.9" stroke="#00ff00" stroke-width="7.4"/>
<text transform="translate(1101.1,1119.9) scale(1,1.04)" font-size="13.8" fill="#000" stroke="#000" stroke-width="0.35">PDO</text>
<path d="M1051.8 1133.17H1097.9" stroke="#000000" stroke-width="4.6"/>
<text transform="translate(1101.1,1138.77) scale(1,1.04)" font-size="13.8" fill="#000" stroke="#000" stroke-width="0.35">IMSPDO</text>
<path d="M1051.8 1152.04H1097.9" stroke="#0000ff" stroke-width="4.6"/>
<text transform="translate(1101.1,1157.64) scale(1,1.04)" font-size="13.8" fill="#000" stroke="#000" stroke-width="0.35">SA</text>
<path d="M1051.8 1170.91H1097.9" stroke="#ffff00" stroke-width="4.6"/>
<text transform="translate(1101.1,1176.51) scale(1,1.04)" font-size="13.8" fill="#000" stroke="#000" stroke-width="0.35">PSO</text>
<path d="M1051.8 1189.79H1097.9" stroke="#ff00ff" stroke-width="4.6"/>
<text transform="translate(1101.1,1195.39) scale(1,1.04)" font-size="13.8" fill="#000" stroke="#000" stroke-width="0.35">DE</text>
<path d="M1051.8 1208.66H1097.9" stroke="#00ffff" stroke-width="4.6"/>
<text transform="translate(1101.1,1214.26) scale(1,1.04)" font-size="13.8" fill="#000" stroke="#000" stroke-width="0.35">GA</text>
<path d="M1051.8 1227.53H1097.9" stroke="#7f7f4c" stroke-width="4.6"/>
<text transform="translate(1101.1,1233.13) scale(1,1.04)" font-size="13.8" fill="#000" stroke="#000" stroke-width="0.35">HHO</text>
<path d="M1051.8 1246.4H1097.9" stroke="#ff0000" stroke-width="4.6"/>
<text transform="translate(1101.1,1252) scale(1,1.04)" font-size="13.8" fill="#000" stroke="#000" stroke-width="0.35">GWO</text>
<rect x="97.4" y="1601.8" width="441.8" height="421.3" fill="none" stroke="#333333" stroke-width="1.3"/>
<path d="M97.4 2023.1v-4.5M97.4 1601.8v4.5" stroke="#333333" stroke-width="1"/>
<text transform="translate(97.4,2045.4) scale(1,1.08)" font-size="15" text-anchor="middle" fill="#1a1a1a" stroke="#1a1a1a" stroke-width="0.35">0</text>
<path d="M185.88 2023.1v-4.5M185.88 1601.8v4.5" stroke="#333333" stroke-width="1"/>
<text transform="translate(185.88,2045.4) scale(1,1.08)" font-size="15" text-anchor="middle" fill="#1a1a1a" stroke="#1a1a1a" stroke-width="0.35">200</text>
<path d="M274.37 2023.1v-4.5M274.37 1601.8v4.5" stroke="#333333" stroke-width="1"/>
<text transform="translate(274.37,2045.4) scale(1,1.08)" font-size="15" text-anchor="middle" fill="#1a1a1a" stroke="#1a1a1a" stroke-width="0.35">400</text>
<path d="M362.85 2023.1v-4.5M362.85 1601.8v4.5" stroke="#333333" stroke-width="1"/>
<text transform="translate(362.85,2045.4) scale(1,1.08)" font-size="15" text-anchor="middle" fill="#1a1a1a" stroke="#1a1a1a" stroke-width="0.35">600</text>
<path d="M451.34 2023.1v-4.5M451.34 1601.8v4.5" stroke="#333333" stroke-width="1"/>
<text transform="translate(451.34,2045.4) scale(1,1.08)" font-size="15" text-anchor="middle" fill="#1a1a1a" stroke="#1a1a1a" stroke-width="0.35">800</text>
<path d="M97.4 1666.54h4.5M539.2 1666.54h-4.5" stroke="#333333" stroke-width="1"/>
<path d="M97.4 1766.53h4.5M539.2 1766.53h-4.5" stroke="#333333" stroke-width="1"/>
<path d="M97.4 1844.1h4.5M539.2 1844.1h-4.5" stroke="#333333" stroke-width="1"/>
<path d="M97.4 1907.47h4.5M539.2 1907.47h-4.5" stroke="#333333" stroke-width="1"/>
<path d="M97.4 1961.05h4.5M539.2 1961.05h-4.5" stroke="#333333" stroke-width="1"/>
<path d="M97.4 2007.46h4.5M539.2 2007.46h-4.5" stroke="#333333" stroke-width="1"/>
<path d="M97.4 1616.8h2.5M539.2 1616.8h-2.5" stroke="#333333" stroke-width="1"/>
<path d="M97.4 1642.56h2.5M539.2 1642.56h-2.5" stroke="#333333" stroke-width="1"/>
<path d="M97.4 1688.97h2.5M539.2 1688.97h-2.5" stroke="#333333" stroke-width="1"/>
<path d="M97.4 1710.05h2.5M539.2 1710.05h-2.5" stroke="#333333" stroke-width="1"/>
<path d="M97.4 1729.91h2.5M539.2 1729.91h-2.5" stroke="#333333" stroke-width="1"/>
<path d="M97.4 1748.71h2.5M539.2 1748.71h-2.5" stroke="#333333" stroke-width="1"/>
<path d="M97.4 1783.49h2.5M539.2 1783.49h-2.5" stroke="#333333" stroke-width="1"/>
<path d="M97.4 1799.66h2.5M539.2 1799.66h-2.5" stroke="#333333" stroke-width="1"/>
<path d="M97.4 1815.11h2.5M539.2 1815.11h-2.5" stroke="#333333" stroke-width="1"/>
<path d="M97.4 1829.91h2.5M539.2 1829.91h-2.5" stroke="#333333" stroke-width="1"/>
<path d="M97.4 1857.73h2.5M539.2 1857.73h-2.5" stroke="#333333" stroke-width="1"/>
<path d="M97.4 1870.85h2.5M539.2 1870.85h-2.5" stroke="#333333" stroke-width="1"/>
<path d="M97.4 1883.49h2.5M539.2 1883.49h-2.5" stroke="#333333" stroke-width="1"/>
<path d="M97.4 1895.68h2.5M539.2 1895.68h-2.5" stroke="#333333" stroke-width="1"/>
<path d="M97.4 1918.86h2.5M539.2 1918.86h-2.5" stroke="#333333" stroke-width="1"/>
<path d="M97.4 1929.9h2.5M539.2 1929.9h-2.5" stroke="#333333" stroke-width="1"/>
<path d="M97.4 1940.6h2.5M539.2 1940.6h-2.5" stroke="#333333" stroke-width="1"/>
<path d="M97.4 1950.97h2.5M539.2 1950.97h-2.5" stroke="#333333" stroke-width="1"/>
<path d="M97.4 1970.84h2.5M539.2 1970.84h-2.5" stroke="#333333" stroke-width="1"/>
<path d="M97.4 1980.36h2.5M539.2 1980.36h-2.5" stroke="#333333" stroke-width="1"/>
<path d="M97.4 1989.63h2.5M539.2 1989.63h-2.5" stroke="#333333" stroke-width="1"/>
<path d="M97.4 1998.66h2.5M539.2 1998.66h-2.5" stroke="#333333" stroke-width="1"/>
<path d="M97.4 2016.04h2.5M539.2 2016.04h-2.5" stroke="#333333" stroke-width="1"/>
<clipPath id="cF7"><rect x="94.4" y="1598.8" width="447.8" height="427.3"/></clipPath>
<g clip-path="url(#cF7)" fill="none" stroke-linejoin="round" stroke-linecap="butt">
<polyline points="97.4,1820 97.6,1862 98,1900 102,1912 104.5,1914.7 539.8,1914.7" stroke="#00ff00" stroke-width="7.2"/>
<polyline points="97.4,1820 97.8,1880 98.4,1947.2 99.8,2013 103.8,2015.7 109.2,2022.4 121.3,2023.1" stroke="#000000" stroke-width="4.6"/>
<polyline points="97.1,1800 98.4,1852.5 101.1,1900.2 101.8,1931 105.2,1935.1 106.5,1957.9 142.1,1957.9 144.8,1968.7 146.8,1980.8 187.1,1980.8 188.4,1991.5 212.6,1992.8 276.6,1992.8 276.6,1994.2 280.7,2009 286,2011.6 318.3,2011.6 321,2021 321.5,2023" stroke="#0000ff" stroke-width="4.4"/>
<polyline points="97.5,1753 105.2,1753.1 107.8,1822.9 115.9,1871.3 119.9,1872.6 122.6,1879.3 126.6,1882 128,1884 130.7,1904.2 134.7,1916.3 138.1,1919 138.7,1940.5 145.5,1941.8 146.1,1947.2 166.9,1948.5 168.3,1960.6 176.3,1967.3 179,1972.7 181.7,1980.8 192.5,1983.4 199.2,1987.5 212.6,1991.5 245,1992 539.8,1992.2" stroke="#ffff00" stroke-width="4.4"/>
<polyline points="97.5,1735 101.8,1785.3 105.2,1844.4 106.5,1900.2 110.5,1901.5 112.5,1921.6 121.3,1921.6 123.3,1947.2 129.3,1948.5 131.3,1967.3 138.1,1968.7 140.1,1984.8 146.1,1986.1 148.1,1998.2 152.8,1999.6 154.2,2013 158.9,2014.3 160.2,2021 179,2022.4" stroke="#ff00ff" stroke-width="4.4"/>
<polyline points="97.8,1833 539.8,1833" stroke="#00ffff" stroke-width="4.4"/>
<polyline points="97.6,1602.4 97.9,1662.2 98.6,1693.1 100.4,1749.5 101.1,1750.4 110.5,1752.4 112.5,1755.7 113.2,1785.3 113.9,1839 114.6,1905 115,1909 118.4,1911 118.2,2000 119,2012 121,2019 125.3,2022.4 539.8,2022.4" stroke="#7f7f4c" stroke-width="4.6"/>
<polyline points="99.8,1750.4 100.4,1784 142.8,1784 142.8,1798.1 193.1,1798.1 193.1,1807.5 288.1,1807.5 288.7,1824.9 304.2,1824.9 304.9,1833 326.3,1833.7 327,1837 357.2,1837 357.9,1845.8 362.6,1847.1 363.3,1851.1 386.8,1851.1 388.1,1853.8 409.2,1853.8 413.2,1856.5 415.9,1865.2 429.3,1865.9 442.8,1866.6 444.1,1869.3 477.7,1869.3 484.4,1872.6 488.4,1874 489.8,1876 497.8,1877.3 509.9,1878.7 539.8,1878.7" stroke="#ff0000" stroke-width="4.7"/>
</g>
<text transform="translate(90.4,1671.84) scale(1,1.08)" font-size="15.3" text-anchor="end" fill="#1a1a1a" stroke="#1a1a1a" stroke-width="0.35">-1500</text>
<text transform="translate(90.4,1771.83) scale(1,1.08)" font-size="15.3" text-anchor="end" fill="#1a1a1a" stroke="#1a1a1a" stroke-width="0.35">-2000</text>
<text transform="translate(90.4,1849.4) scale(1,1.08)" font-size="15.3" text-anchor="end" fill="#1a1a1a" stroke="#1a1a1a" stroke-width="0.35">-2500</text>
<text transform="translate(90.4,1912.77) scale(1,1.08)" font-size="15.3" text-anchor="end" fill="#1a1a1a" stroke="#1a1a1a" stroke-width="0.35">-3000</text>
<text transform="translate(90.4,1966.35) scale(1,1.08)" font-size="15.3" text-anchor="end" fill="#1a1a1a" stroke="#1a1a1a" stroke-width="0.35">-3500</text>
<text transform="translate(90.4,2012.76) scale(1,1.08)" font-size="15.3" text-anchor="end" fill="#1a1a1a" stroke="#1a1a1a" stroke-width="0.35">-4000</text>
<text transform="translate(320.9,1595.3) scale(1,1.13)" font-size="20.5" text-anchor="middle" fill="#000" stroke="#000" stroke-width="0.35">F7</text>
<text transform="translate(318.3,2071.3) scale(1,0.99)" font-size="21.5" text-anchor="middle" fill="#1a1a1a" stroke="#1a1a1a" stroke-width="0.35">Number of iteration</text>
<text transform="translate(42.2,1812.45) rotate(-90)" x="0" y="0" font-size="21.5" text-anchor="middle" fill="#1a1a1a" stroke="#1a1a1a" stroke-width="0.35" style="white-space:pre">Best  fitness  so  far</text>
<rect x="414.3" y="1613.9" width="113.4" height="155.3" fill="#fff" stroke="#333333" stroke-width="1"/>
<path d="M418.8 1625.2H464.9" stroke="#00ff00" stroke-width="7.4"/>
<text transform="translate(468.1,1630.8) scale(1,1.04)" font-size="13.8" fill="#000" stroke="#000" stroke-width="0.35">PDO</text>
<path d="M418.8 1644.16H464.9" stroke="#000000" stroke-width="4.6"/>
<text transform="translate(468.1,1649.76) scale(1,1.04)" font-size="13.8" fill="#000" stroke="#000" stroke-width="0.35">IMSPDO</text>
<path d="M418.8 1663.11H464.9" stroke="#0000ff" stroke-width="4.6"/>
<text transform="translate(468.1,1668.71) scale(1,1.04)" font-size="13.8" fill="#000" stroke="#000" stroke-width="0.35">SA</text>
<path d="M418.8 1682.07H464.9" stroke="#ffff00" stroke-width="4.6"/>
<text transform="translate(468.1,1687.67) scale(1,1.04)" font-size="13.8" fill="#000" stroke="#000" stroke-width="0.35">PSO</text>
<path d="M418.8 1701.03H464.9" stroke="#ff00ff" stroke-width="4.6"/>
<text transform="translate(468.1,1706.63) scale(1,1.04)" font-size="13.8" fill="#000" stroke="#000" stroke-width="0.35">DE</text>
<path d="M418.8 1719.99H464.9" stroke="#00ffff" stroke-width="4.6"/>
<text transform="translate(468.1,1725.59) scale(1,1.04)" font-size="13.8" fill="#000" stroke="#000" stroke-width="0.35">GA</text>
<path d="M418.8 1738.94H464.9" stroke="#7f7f4c" stroke-width="4.6"/>
<text transform="translate(468.1,1744.54) scale(1,1.04)" font-size="13.8" fill="#000" stroke="#000" stroke-width="0.35">HHO</text>
<path d="M418.8 1757.9H464.9" stroke="#ff0000" stroke-width="4.6"/>
<text transform="translate(468.1,1763.5) scale(1,1.04)" font-size="13.8" fill="#000" stroke="#000" stroke-width="0.35">GWO</text>
<rect x="728.3" y="1602.8" width="453.7" height="427.5" fill="none" stroke="#333333" stroke-width="1.3"/>
<path d="M728.3 2030.3v-4.5M728.3 1602.8v4.5" stroke="#333333" stroke-width="1"/>
<text transform="translate(728.3,2052.6) scale(1,1.08)" font-size="15" text-anchor="middle" fill="#1a1a1a" stroke="#1a1a1a" stroke-width="0.35">0</text>
<path d="M819.04 2030.3v-4.5M819.04 1602.8v4.5" stroke="#333333" stroke-width="1"/>
<text transform="translate(819.04,2052.6) scale(1,1.08)" font-size="15" text-anchor="middle" fill="#1a1a1a" stroke="#1a1a1a" stroke-width="0.35">200</text>
<path d="M909.78 2030.3v-4.5M909.78 1602.8v4.5" stroke="#333333" stroke-width="1"/>
<text transform="translate(909.78,2052.6) scale(1,1.08)" font-size="15" text-anchor="middle" fill="#1a1a1a" stroke="#1a1a1a" stroke-width="0.35">400</text>
<path d="M1000.52 2030.3v-4.5M1000.52 1602.8v4.5" stroke="#333333" stroke-width="1"/>
<text transform="translate(1000.52,2052.6) scale(1,1.08)" font-size="15" text-anchor="middle" fill="#1a1a1a" stroke="#1a1a1a" stroke-width="0.35">600</text>
<path d="M1091.26 2030.3v-4.5M1091.26 1602.8v4.5" stroke="#333333" stroke-width="1"/>
<text transform="translate(1091.26,2052.6) scale(1,1.08)" font-size="15" text-anchor="middle" fill="#1a1a1a" stroke="#1a1a1a" stroke-width="0.35">800</text>
<path d="M1182 2030.3v-4.5M1182 1602.8v4.5" stroke="#333333" stroke-width="1"/>
<text transform="translate(1182,2052.6) scale(1,1.08)" font-size="15" text-anchor="middle" fill="#1a1a1a" stroke="#1a1a1a" stroke-width="0.35">1000</text>
<path d="M728.3 2030.3h4.5M1182 2030.3h-4.5" stroke="#333333" stroke-width="1"/>
<path d="M728.3 1923.42h4.5M1182 1923.42h-4.5" stroke="#333333" stroke-width="1"/>
<path d="M728.3 1816.55h4.5M1182 1816.55h-4.5" stroke="#333333" stroke-width="1"/>
<path d="M728.3 1709.67h4.5M1182 1709.67h-4.5" stroke="#333333" stroke-width="1"/>
<path d="M728.3 1602.8h4.5M1182 1602.8h-4.5" stroke="#333333" stroke-width="1"/>
<path d="M728.3 2008.92h2.5M1182 2008.92h-2.5" stroke="#333333" stroke-width="1"/>
<path d="M728.3 1987.55h2.5M1182 1987.55h-2.5" stroke="#333333" stroke-width="1"/>
<path d="M728.3 1966.17h2.5M1182 1966.17h-2.5" stroke="#333333" stroke-width="1"/>
<path d="M728.3 1944.8h2.5M1182 1944.8h-2.5" stroke="#333333" stroke-width="1"/>
<path d="M728.3 1902.05h2.5M1182 1902.05h-2.5" stroke="#333333" stroke-width="1"/>
<path d="M728.3 1880.67h2.5M1182 1880.67h-2.5" stroke="#333333" stroke-width="1"/>
<path d="M728.3 1859.3h2.5M1182 1859.3h-2.5" stroke="#333333" stroke-width="1"/>
<path d="M728.3 1837.92h2.5M1182 1837.92h-2.5" stroke="#333333" stroke-width="1"/>
<path d="M728.3 1795.17h2.5M1182 1795.17h-2.5" stroke="#333333" stroke-width="1"/>
<path d="M728.3 1773.8h2.5M1182 1773.8h-2.5" stroke="#333333" stroke-width="1"/>
<path d="M728.3 1752.42h2.5M1182 1752.42h-2.5" stroke="#333333" stroke-width="1"/>
<path d="M728.3 1731.05h2.5M1182 1731.05h-2.5" stroke="#333333" stroke-width="1"/>
<path d="M728.3 1688.3h2.5M1182 1688.3h-2.5" stroke="#333333" stroke-width="1"/>
<path d="M728.3 1666.92h2.5M1182 1666.92h-2.5" stroke="#333333" stroke-width="1"/>
<path d="M728.3 1645.55h2.5M1182 1645.55h-2.5" stroke="#333333" stroke-width="1"/>
<path d="M728.3 1624.17h2.5M1182 1624.17h-2.5" stroke="#333333" stroke-width="1"/>
<clipPath id="cF8"><rect x="725.3" y="1599.8" width="459.7" height="433.5"/></clipPath>
<g clip-path="url(#cF8)" fill="none" stroke-linejoin="round" stroke-linecap="butt">
<polyline points="729.4,1652.8 800.6,1654.1 814,1654.8 840.9,1656.8" stroke="#00ff00" stroke-width="4.6"/>
<polyline points="728.7,1844.4 729.4,1849.8 734.8,1852.5 735.4,1939.1 740.8,1939.1 741.5,1955.2 746.2,1956.6 746.9,1966 748.9,1967.3 749.6,1992.8 752.9,1993.5" stroke="#000000" stroke-width="4.6"/>
<polyline points="729,1652 731.4,1658.1 734.8,1671.6 741.5,1675.6 775.1,1675.6 779.1,1682.3 787.2,1685 820.8,1685 823.4,1689.7 832.8,1691.7 869.1,1691.7 873.1,1693.7 910.3,1692.4 921,1695.8 957.3,1695.8 961.3,1699.1 1003,1699.1 1007,1709.2 1181.6,1709.2" stroke="#0000ff" stroke-width="4.6"/>
<polyline points="729.4,1652 840.9,1660.8 870,1661.5 923.7,1670.2 957.3,1674.9 1030,1676.3 1181.6,1677.7" stroke="#ffff00" stroke-width="4.6"/>
<polyline points="729.4,1654 746.9,1660.8 787.2,1663.5 807.3,1666.2 880,1668.2 923.7,1668.9 1030,1670.9 1181.6,1673.1" stroke="#ff00ff" stroke-width="4.6"/>
<polyline points="729.4,1652.1 740.2,1656.8 773.7,1659.5 827.5,1661.5 880,1664.9 923.7,1665.5 1030,1666 1181.6,1665.6" stroke="#00ffff" stroke-width="4.6"/>
<polyline points="729.4,1656.8 732.1,1675.6 734.8,1709.2 736.8,1755 735.4,1782.6 738.8,1786.6 740.2,1812.2 741.5,1844.4 744.9,1845.8 745.5,1852.5 748.2,1855.2 748.9,1863.2 754.9,1863.2 755.6,1874 773.7,1874 777.1,1884 777.1,1933.7 800.6,1933.7" stroke="#7f7f4c" stroke-width="4.6"/>
<polyline points="728.1,1654.1 730.7,1654.1 733.4,1658.8 744.2,1661.5 749.6,1668.9 760.3,1671.6 764.3,1675.6 769.7,1685 773.7,1698.4 776.4,1715.9 780.5,1755 787.2,1814.9 793.9,1880 800.6,1924.3 804.6,1968.7 810,1994.9" stroke="#ff0000" stroke-width="4.7"/>
</g>
<text transform="translate(721.3,1603.6) scale(1,1.0)" font-size="12.5" text-anchor="end" fill="#1a1a1a" stroke="#1a1a1a" stroke-width="0.35">5</text>
<text transform="translate(713.75,1611.1) scale(1,1.0)" font-size="15.1" text-anchor="end" fill="#1a1a1a" stroke="#1a1a1a" stroke-width="0.35">10</text>
<text transform="translate(721.3,1710.47) scale(1,1.0)" font-size="12.5" text-anchor="end" fill="#1a1a1a" stroke="#1a1a1a" stroke-width="0.35">0</text>
<text transform="translate(713.75,1717.97) scale(1,1.0)" font-size="15.1" text-anchor="end" fill="#1a1a1a" stroke="#1a1a1a" stroke-width="0.35">10</text>
<text transform="translate(721.3,1817.35) scale(1,1.0)" font-size="12.5" text-anchor="end" fill="#1a1a1a" stroke="#1a1a1a" stroke-width="0.35">-5</text>
<text transform="translate(709.59,1824.85) scale(1,1.0)" font-size="15.1" text-anchor="end" fill="#1a1a1a" stroke="#1a1a1a" stroke-width="0.35">10</text>
<text transform="translate(721.3,1924.22) scale(1,1.0)" font-size="12.5" text-anchor="end" fill="#1a1a1a" stroke="#1a1a1a" stroke-width="0.35">-10</text>
<text transform="translate(702.64,1931.72) scale(1,1.0)" font-size="15.1" text-anchor="end" fill="#1a1a1a" stroke="#1a1a1a" stroke-width="0.35">10</text>
<text transform="translate(721.3,2031.1) scale(1,1.0)" font-size="12.5" text-anchor="end" fill="#1a1a1a" stroke="#1a1a1a" stroke-width="0.35">-15</text>
<text transform="translate(702.64,2038.6) scale(1,1.0)" font-size="15.1" text-anchor="end" fill="#1a1a1a" stroke="#1a1a1a" stroke-width="0.35">10</text>
<text transform="translate(955.15,1595.2) scale(1,1.13)" font-size="20.5" text-anchor="middle" fill="#000" stroke="#000" stroke-width="0.35">F8</text>
<text transform="translate(955.15,2080) scale(1,0.99)" font-size="22" text-anchor="middle" fill="#1a1a1a" stroke="#1a1a1a" stroke-width="0.35">Number of iteration</text>
<text transform="translate(675.7,1816.55) rotate(-90)" x="0" y="0" font-size="22" text-anchor="middle" fill="#1a1a1a" stroke="#1a1a1a" stroke-width="0.35" style="white-space:pre">Best  fitness  so  far</text>
<rect x="1053.8" y="1614.5" width="115.7" height="157.1" fill="#fff" stroke="#333333" stroke-width="1"/>
<path d="M1058.3 1625.8H1104.9" stroke="#00ff00" stroke-width="4.6"/>
<text transform="translate(1108.8,1631.4) scale(1,1.04)" font-size="13.8" fill="#000" stroke="#000" stroke-width="0.35">PDO</text>
<path d="M1058.3 1645.01H1104.9" stroke="#000000" stroke-width="4.6"/>
<text transform="translate(1108.8,1650.61) scale(1,1.04)" font-size="13.8" fill="#000" stroke="#000" stroke-width="0.35">IMSPDO</text>
<path d="M1058.3 1664.23H1104.9" stroke="#0000ff" stroke-width="4.6"/>
<text transform="translate(1108.8,1669.83) scale(1,1.04)" font-size="13.8" fill="#000" stroke="#000" stroke-width="0.35">SA</text>
<path d="M1058.3 1683.44H1104.9" stroke="#ffff00" stroke-width="4.6"/>
<text transform="translate(1108.8,1689.04) scale(1,1.04)" font-size="13.8" fill="#000" stroke="#000" stroke-width="0.35">PSO</text>
<path d="M1058.3 1702.66H1104.9" stroke="#ff00ff" stroke-width="4.6"/>
<text transform="translate(1108.8,1708.26) scale(1,1.04)" font-size="13.8" fill="#000" stroke="#000" stroke-width="0.35">DE</text>
<path d="M1058.3 1721.87H1104.9" stroke="#00ffff" stroke-width="4.6"/>
<text transform="translate(1108.8,1727.47) scale(1,1.04)" font-size="13.8" fill="#000" stroke="#000" stroke-width="0.35">GA</text>
<path d="M1058.3 1741.09H1104.9" stroke="#7f7f4c" stroke-width="4.6"/>
<text transform="translate(1108.8,1746.69) scale(1,1.04)" font-size="13.8" fill="#000" stroke="#000" stroke-width="0.35">HHO</text>
<path d="M1058.3 1760.3H1104.9" stroke="#ff0000" stroke-width="4.6"/>
<text transform="translate(1108.8,1765.9) scale(1,1.04)" font-size="13.8" fill="#000" stroke="#000" stroke-width="0.35">GWO</text>
<rect x="83.7" y="2113.6" width="453" height="428.1" fill="none" stroke="#333333" stroke-width="1.3"/>
<path d="M83.7 2541.7v-4.5M83.7 2113.6v4.5" stroke="#333333" stroke-width="1"/>
<text transform="translate(83.7,2564) scale(1,1.08)" font-size="15" text-anchor="middle" fill="#1a1a1a" stroke="#1a1a1a" stroke-width="0.35">0</text>
<path d="M174.3 2541.7v-4.5M174.3 2113.6v4.5" stroke="#333333" stroke-width="1"/>
<text transform="translate(174.3,2564) scale(1,1.08)" font-size="15" text-anchor="middle" fill="#1a1a1a" stroke="#1a1a1a" stroke-width="0.35">200</text>
<path d="M264.9 2541.7v-4.5M264.9 2113.6v4.5" stroke="#333333" stroke-width="1"/>
<text transform="translate(264.9,2564) scale(1,1.08)" font-size="15" text-anchor="middle" fill="#1a1a1a" stroke="#1a1a1a" stroke-width="0.35">400</text>
<path d="M355.5 2541.7v-4.5M355.5 2113.6v4.5" stroke="#333333" stroke-width="1"/>
<text transform="translate(355.5,2564) scale(1,1.08)" font-size="15" text-anchor="middle" fill="#1a1a1a" stroke="#1a1a1a" stroke-width="0.35">600</text>
<path d="M446.1 2541.7v-4.5M446.1 2113.6v4.5" stroke="#333333" stroke-width="1"/>
<text transform="translate(446.1,2564) scale(1,1.08)" font-size="15" text-anchor="middle" fill="#1a1a1a" stroke="#1a1a1a" stroke-width="0.35">800</text>
<path d="M536.7 2541.7v-4.5M536.7 2113.6v4.5" stroke="#333333" stroke-width="1"/>
<text transform="translate(536.7,2564) scale(1,1.08)" font-size="15" text-anchor="middle" fill="#1a1a1a" stroke="#1a1a1a" stroke-width="0.35">1000</text>
<path d="M83.7 2535.17h4.5M536.7 2535.17h-4.5" stroke="#333333" stroke-width="1"/>
<path d="M83.7 2429.77h4.5M536.7 2429.77h-4.5" stroke="#333333" stroke-width="1"/>
<path d="M83.7 2324.38h4.5M536.7 2324.38h-4.5" stroke="#333333" stroke-width="1"/>
<path d="M83.7 2218.99h4.5M536.7 2218.99h-4.5" stroke="#333333" stroke-width="1"/>
<path d="M83.7 2113.6h4.5M536.7 2113.6h-4.5" stroke="#333333" stroke-width="1"/>
<path d="M83.7 2514.09h2.5M536.7 2514.09h-2.5" stroke="#333333" stroke-width="1"/>
<path d="M83.7 2493.01h2.5M536.7 2493.01h-2.5" stroke="#333333" stroke-width="1"/>
<path d="M83.7 2471.93h2.5M536.7 2471.93h-2.5" stroke="#333333" stroke-width="1"/>
<path d="M83.7 2450.85h2.5M536.7 2450.85h-2.5" stroke="#333333" stroke-width="1"/>
<path d="M83.7 2408.7h2.5M536.7 2408.7h-2.5" stroke="#333333" stroke-width="1"/>
<path d="M83.7 2387.62h2.5M536.7 2387.62h-2.5" stroke="#333333" stroke-width="1"/>
<path d="M83.7 2366.54h2.5M536.7 2366.54h-2.5" stroke="#333333" stroke-width="1"/>
<path d="M83.7 2345.46h2.5M536.7 2345.46h-2.5" stroke="#333333" stroke-width="1"/>
<path d="M83.7 2303.3h2.5M536.7 2303.3h-2.5" stroke="#333333" stroke-width="1"/>
<path d="M83.7 2282.23h2.5M536.7 2282.23h-2.5" stroke="#333333" stroke-width="1"/>
<path d="M83.7 2261.15h2.5M536.7 2261.15h-2.5" stroke="#333333" stroke-width="1"/>
<path d="M83.7 2240.07h2.5M536.7 2240.07h-2.5" stroke="#333333" stroke-width="1"/>
<path d="M83.7 2197.91h2.5M536.7 2197.91h-2.5" stroke="#333333" stroke-width="1"/>
<path d="M83.7 2176.83h2.5M536.7 2176.83h-2.5" stroke="#333333" stroke-width="1"/>
<path d="M83.7 2155.76h2.5M536.7 2155.76h-2.5" stroke="#333333" stroke-width="1"/>
<path d="M83.7 2134.68h2.5M536.7 2134.68h-2.5" stroke="#333333" stroke-width="1"/>
<clipPath id="cF9"><rect x="80.7" y="2110.6" width="459" height="434.1"/></clipPath>
<g clip-path="url(#cF9)" fill="none" stroke-linejoin="round" stroke-linecap="butt">
<polyline points="84.4,2190.3 199,2190.3 199.1,2541.7" stroke="#00ff00" stroke-width="4.6"/>
<polyline points="86.4,2437.6 88.4,2443 89.1,2472.5 90.4,2486.6 97.2,2488.7 98.5,2507.5 107.9,2508.8 111.3,2515.5 112.6,2541.7 294.9,2541.7" stroke="#000000" stroke-width="4.6"/>
<polyline points="84.4,2191 88,2196 96.5,2197.7 128.7,2199 132.8,2203.1 140.8,2211.8 174.4,2211.8 179.8,2215.2 198.6,2216.5 221.4,2216.5 225.5,2220.5 227.7,2242 231.7,2249.4 269.3,2250.1 273.4,2255.5 274.7,2261.5 316.3,2261.7 317.7,2267.8 358,2268.4 363.4,2273.1 364.7,2280.5 385,2281.2 402.8,2282.1 405,2290 412.1,2294.3 415,2301.4 444.9,2302.1 449.2,2307.8 456.4,2312.1 459.2,2319.2 494.9,2320.7 499.2,2327.8 504.9,2331.4 536.7,2331.4" stroke="#0000ff" stroke-width="4.6"/>
<polyline points="84.4,2190 88.4,2193.7 142.2,2197.7 235,2201 265.3,2204.4 305.6,2209.8 319,2212.5 323.1,2217.8 335.2,2221.9 345.9,2228.6 352.6,2234 366,2239.3 372.8,2247.4 389.3,2256.3 417.8,2280.7 439.2,2295 460.6,2309.2 474.9,2327.8 496.3,2346.4 510.6,2359.2 524.9,2373.5 536.7,2382" stroke="#ffff00" stroke-width="4.6"/>
<polyline points="84.4,2190 88.4,2192.3 122,2196.3 135.5,2200.4 155.6,2204.4 175.8,2208.4 195.9,2214.5 216.1,2223.2 225,2227.2 238.4,2235.3 251.9,2240.7 278.7,2252.8 319,2269.8 345.9,2277.8 359.3,2284.6 375,2290.7 403.5,2301.4 432.1,2312.1 460.6,2322.1 489.2,2331.4 517.7,2343.5 536.7,2349.9" stroke="#ff00ff" stroke-width="4.6"/>
<polyline points="84.4,2189.6 142.2,2191 235,2194.3 536.7,2194.6" stroke="#00ffff" stroke-width="4.6"/>
<polyline points="84.4,2192.3 87.1,2225.9 87.8,2272.5 94.5,2272.5 95.8,2299.3 105.9,2301.3 115.3,2302.7 116.6,2318.8 135.5,2318.8 136.8,2322.8 150.2,2324.2 150.9,2334.9 171.7,2335.6 173.7,2355.1 202.6,2355.1 205.3,2357.8 218.7,2358.4 220.1,2382.6 221.4,2406.8 249.9,2406.7 251.2,2417.5 252.5,2433.6 255.9,2487.3 257.9,2488.7 258.6,2521.6 296.2,2522.2 296.9,2541.7 536.7,2541.7" stroke="#7f7f4c" stroke-width="4.6"/>
<polyline points="84.4,2191 92.5,2204.4 96.5,2212.5 104.6,2242 111.3,2265 120.7,2295.3 136.8,2365.2 145.5,2400 154.3,2436.3 163.7,2475.2 171.7,2504.8 174.4,2510.2 536.7,2510.2" stroke="#ff0000" stroke-width="4.7"/>
</g>
<text transform="translate(76.7,2114.4) scale(1,1.0)" font-size="12.5" text-anchor="end" fill="#1a1a1a" stroke="#1a1a1a" stroke-width="0.35">5</text>
<text transform="translate(69.15,2121.9) scale(1,1.0)" font-size="15.1" text-anchor="end" fill="#1a1a1a" stroke="#1a1a1a" stroke-width="0.35">10</text>
<text transform="translate(76.7,2219.79) scale(1,1.0)" font-size="12.5" text-anchor="end" fill="#1a1a1a" stroke="#1a1a1a" stroke-width="0.35">0</text>
<text transform="translate(69.15,2227.29) scale(1,1.0)" font-size="15.1" text-anchor="end" fill="#1a1a1a" stroke="#1a1a1a" stroke-width="0.35">10</text>
<text transform="translate(76.7,2325.18) scale(1,1.0)" font-size="12.5" text-anchor="end" fill="#1a1a1a" stroke="#1a1a1a" stroke-width="0.35">-5</text>
<text transform="translate(64.99,2332.68) scale(1,1.0)" font-size="15.1" text-anchor="end" fill="#1a1a1a" stroke="#1a1a1a" stroke-width="0.35">10</text>
<text transform="translate(76.7,2430.57) scale(1,1.0)" font-size="12.5" text-anchor="end" fill="#1a1a1a" stroke="#1a1a1a" stroke-width="0.35">-10</text>
<text transform="translate(58.04,2438.07) scale(1,1.0)" font-size="15.1" text-anchor="end" fill="#1a1a1a" stroke="#1a1a1a" stroke-width="0.35">10</text>
<text transform="translate(76.7,2535.97) scale(1,1.0)" font-size="12.5" text-anchor="end" fill="#1a1a1a" stroke="#1a1a1a" stroke-width="0.35">-15</text>
<text transform="translate(58.04,2543.47) scale(1,1.0)" font-size="15.1" text-anchor="end" fill="#1a1a1a" stroke="#1a1a1a" stroke-width="0.35">10</text>
<text transform="translate(310.2,2105.7) scale(1,1.13)" font-size="20.5" text-anchor="middle" fill="#000" stroke="#000" stroke-width="0.35">F9</text>
<text transform="translate(310.2,2591.4) scale(1,0.99)" font-size="22" text-anchor="middle" fill="#1a1a1a" stroke="#1a1a1a" stroke-width="0.35">Number of iteration</text>
<text transform="translate(31.1,2327.65) rotate(-90)" x="0" y="0" font-size="22" text-anchor="middle" fill="#1a1a1a" stroke="#1a1a1a" stroke-width="0.35" style="white-space:pre">Best  fitness  so  far</text>
<rect x="409.3" y="2125.7" width="115.3" height="157.9" fill="#fff" stroke="#333333" stroke-width="1"/>
<path d="M413.8 2136.8H461.1" stroke="#00ff00" stroke-width="4.6"/>
<text transform="translate(464.1,2142.4) scale(1,1.04)" font-size="13.8" fill="#000" stroke="#000" stroke-width="0.35">PDO</text>
<path d="M413.8 2156.19H461.1" stroke="#000000" stroke-width="4.6"/>
<text transform="translate(464.1,2161.79) scale(1,1.04)" font-size="13.8" fill="#000" stroke="#000" stroke-width="0.35">IMSPDO</text>
<path d="M413.8 2175.57H461.1" stroke="#0000ff" stroke-width="4.6"/>
<text transform="translate(464.1,2181.17) scale(1,1.04)" font-size="13.8" fill="#000" stroke="#000" stroke-width="0.35">SA</text>
<path d="M413.8 2194.96H461.1" stroke="#ffff00" stroke-width="4.6"/>
<text transform="translate(464.1,2200.56) scale(1,1.04)" font-size="13.8" fill="#000" stroke="#000" stroke-width="0.35">PSO</text>
<path d="M413.8 2214.34H461.1" stroke="#ff00ff" stroke-width="4.6"/>
<text transform="translate(464.1,2219.94) scale(1,1.04)" font-size="13.8" fill="#000" stroke="#000" stroke-width="0.35">DE</text>
<path d="M413.8 2233.73H461.1" stroke="#00ffff" stroke-width="4.6"/>
<text transform="translate(464.1,2239.33) scale(1,1.04)" font-size="13.8" fill="#000" stroke="#000" stroke-width="0.35">GA</text>
<path d="M413.8 2253.11H461.1" stroke="#7f7f4c" stroke-width="4.6"/>
<text transform="translate(464.1,2258.71) scale(1,1.04)" font-size="13.8" fill="#000" stroke="#000" stroke-width="0.35">HHO</text>
<path d="M413.8 2272.5H461.1" stroke="#ff0000" stroke-width="4.6"/>
<text transform="translate(464.1,2278.1) scale(1,1.04)" font-size="13.8" fill="#000" stroke="#000" stroke-width="0.35">GWO</text>
<rect x="729.4" y="2113.6" width="452.3" height="428.4" fill="none" stroke="#333333" stroke-width="1.3"/>
<path d="M729.4 2542v-4.5M729.4 2113.6v4.5" stroke="#333333" stroke-width="1"/>
<text transform="translate(729.4,2564.3) scale(1,1.08)" font-size="15" text-anchor="middle" fill="#1a1a1a" stroke="#1a1a1a" stroke-width="0.35">0</text>
<path d="M819.86 2542v-4.5M819.86 2113.6v4.5" stroke="#333333" stroke-width="1"/>
<text transform="translate(819.86,2564.3) scale(1,1.08)" font-size="15" text-anchor="middle" fill="#1a1a1a" stroke="#1a1a1a" stroke-width="0.35">200</text>
<path d="M910.32 2542v-4.5M910.32 2113.6v4.5" stroke="#333333" stroke-width="1"/>
<text transform="translate(910.32,2564.3) scale(1,1.08)" font-size="15" text-anchor="middle" fill="#1a1a1a" stroke="#1a1a1a" stroke-width="0.35">400</text>
<path d="M1000.78 2542v-4.5M1000.78 2113.6v4.5" stroke="#333333" stroke-width="1"/>
<text transform="translate(1000.78,2564.3) scale(1,1.08)" font-size="15" text-anchor="middle" fill="#1a1a1a" stroke="#1a1a1a" stroke-width="0.35">600</text>
<path d="M1091.24 2542v-4.5M1091.24 2113.6v4.5" stroke="#333333" stroke-width="1"/>
<text transform="translate(1091.24,2564.3) scale(1,1.08)" font-size="15" text-anchor="middle" fill="#1a1a1a" stroke="#1a1a1a" stroke-width="0.35">800</text>
<path d="M1181.7 2542v-4.5M1181.7 2113.6v4.5" stroke="#333333" stroke-width="1"/>
<text transform="translate(1181.7,2564.3) scale(1,1.08)" font-size="15" text-anchor="middle" fill="#1a1a1a" stroke="#1a1a1a" stroke-width="0.35">1000</text>
<path d="M729.4 2542h4.5M1181.7 2542h-4.5" stroke="#333333" stroke-width="1"/>
<path d="M729.4 2456.32h4.5M1181.7 2456.32h-4.5" stroke="#333333" stroke-width="1"/>
<path d="M729.4 2370.64h4.5M1181.7 2370.64h-4.5" stroke="#333333" stroke-width="1"/>
<path d="M729.4 2284.96h4.5M1181.7 2284.96h-4.5" stroke="#333333" stroke-width="1"/>
<path d="M729.4 2199.28h4.5M1181.7 2199.28h-4.5" stroke="#333333" stroke-width="1"/>
<path d="M729.4 2113.6h4.5M1181.7 2113.6h-4.5" stroke="#333333" stroke-width="1"/>
<path d="M729.4 2524.86h2.5M1181.7 2524.86h-2.5" stroke="#333333" stroke-width="1"/>
<path d="M729.4 2507.73h2.5M1181.7 2507.73h-2.5" stroke="#333333" stroke-width="1"/>
<path d="M729.4 2490.59h2.5M1181.7 2490.59h-2.5" stroke="#333333" stroke-width="1"/>
<path d="M729.4 2473.46h2.5M1181.7 2473.46h-2.5" stroke="#333333" stroke-width="1"/>
<path d="M729.4 2439.18h2.5M1181.7 2439.18h-2.5" stroke="#333333" stroke-width="1"/>
<path d="M729.4 2422.05h2.5M1181.7 2422.05h-2.5" stroke="#333333" stroke-width="1"/>
<path d="M729.4 2404.91h2.5M1181.7 2404.91h-2.5" stroke="#333333" stroke-width="1"/>
<path d="M729.4 2387.78h2.5M1181.7 2387.78h-2.5" stroke="#333333" stroke-width="1"/>
<path d="M729.4 2353.5h2.5M1181.7 2353.5h-2.5" stroke="#333333" stroke-width="1"/>
<path d="M729.4 2336.37h2.5M1181.7 2336.37h-2.5" stroke="#333333" stroke-width="1"/>
<path d="M729.4 2319.23h2.5M1181.7 2319.23h-2.5" stroke="#333333" stroke-width="1"/>
<path d="M729.4 2302.1h2.5M1181.7 2302.1h-2.5" stroke="#333333" stroke-width="1"/>
<path d="M729.4 2267.82h2.5M1181.7 2267.82h-2.5" stroke="#333333" stroke-width="1"/>
<path d="M729.4 2250.69h2.5M1181.7 2250.69h-2.5" stroke="#333333" stroke-width="1"/>
<path d="M729.4 2233.55h2.5M1181.7 2233.55h-2.5" stroke="#333333" stroke-width="1"/>
<path d="M729.4 2216.42h2.5M1181.7 2216.42h-2.5" stroke="#333333" stroke-width="1"/>
<path d="M729.4 2182.14h2.5M1181.7 2182.14h-2.5" stroke="#333333" stroke-width="1"/>
<path d="M729.4 2165.01h2.5M1181.7 2165.01h-2.5" stroke="#333333" stroke-width="1"/>
<path d="M729.4 2147.87h2.5M1181.7 2147.87h-2.5" stroke="#333333" stroke-width="1"/>
<path d="M729.4 2130.74h2.5M1181.7 2130.74h-2.5" stroke="#333333" stroke-width="1"/>
<clipPath id="cF10"><rect x="726.4" y="2110.6" width="458.3" height="434.4"/></clipPath>
<g clip-path="url(#cF10)" fill="none" stroke-linejoin="round" stroke-linecap="butt">
<polyline points="730,2175 740,2198 752.2,2201 840.9,2202.4" stroke="#00ff00" stroke-width="4.6"/>
<polyline points="730.7,2334.3 734.1,2334.3 735.4,2362.5 736.1,2404.1 738.8,2404.5 739.5,2430.2 746.2,2431.6 748.9,2448.4 755.6,2449.7" stroke="#000000" stroke-width="4.6"/>
<polyline points="729.4,2160 732.1,2176.2 734.8,2195 773.7,2197 781.8,2201.7 784.5,2216.5 820.8,2216.5 827.5,2228.6 866.9,2230.8 875.3,2233.8 1181.6,2234" stroke="#0000ff" stroke-width="4.6"/>
<polyline points="729.4,2158 736.1,2169.5 760.3,2174.9 800.6,2178.2 840,2181.8 860.2,2186 895.4,2192.7 940.8,2197.7 987.8,2200.2 994.5,2205.3 1014.6,2211.1 1021.4,2219.5 1033.1,2225.4 1044,2230.5 1053.1,2231.2 1181.6,2231.2" stroke="#ffff00" stroke-width="4.6"/>
<polyline points="729.4,2152 730.7,2154.7 746.9,2164.1 767,2174.9 773.7,2178.9 793.9,2191 814,2195 834.2,2197.7 840,2198.5 865.2,2201.1 882,2206.1 898.8,2211.1 915.6,2218.7 932.4,2228.8 949.2,2240.5 971,2255.6 991.1,2265.7 1007.9,2277.5 1024.7,2287.5 1040,2299.3 1064.4,2313.2 1098.5,2335.3 1130.6,2355.3 1150.6,2365.4 1181.6,2380.6" stroke="#ff00ff" stroke-width="4.6"/>
<polyline points="729.4,2152 746.9,2161.4 773.7,2168.1 787.2,2171.5 827.5,2176.2 840,2176.7 860.2,2182.6 897.1,2183.4 913.9,2187.6 957.5,2189.3 967.6,2191.8 1016.3,2191 1040,2194.3 1053.1,2194.6 1181.6,2197.4" stroke="#00ffff" stroke-width="4.6"/>
<polyline points="729.4,2158.7 732.1,2225.9 733.4,2256.8 740.2,2258.4 741.5,2259 742.8,2272.5 744.9,2283.2 745.5,2300.7 748.9,2302 749.6,2328.9 752.9,2330.2 753.6,2339 772.4,2339 773.7,2344.3 783.1,2345 785.8,2347.7 786.5,2371.9 791.9,2372.5 792.5,2385.3 798.6,2386 799.3,2440.3 801.3,2441.6 801.9,2464.5 846.3,2464.5" stroke="#7f7f4c" stroke-width="4.6"/>
<polyline points="729.4,2152 733.4,2166.8 740.2,2195 744.2,2197.7 749.6,2200.4 753.6,2219.2 757.6,2239.3 763,2265 773.7,2335.6 781.8,2400 788.5,2437.6 792.5,2456.4 793.9,2473.9" stroke="#ff0000" stroke-width="4.7"/>
</g>
<text transform="translate(722.4,2114.4) scale(1,1.0)" font-size="12.5" text-anchor="end" fill="#1a1a1a" stroke="#1a1a1a" stroke-width="0.35">5</text>
<text transform="translate(714.85,2121.9) scale(1,1.0)" font-size="15.1" text-anchor="end" fill="#1a1a1a" stroke="#1a1a1a" stroke-width="0.35">10</text>
<text transform="translate(722.4,2200.08) scale(1,1.0)" font-size="12.5" text-anchor="end" fill="#1a1a1a" stroke="#1a1a1a" stroke-width="0.35">0</text>
<text transform="translate(714.85,2207.58) scale(1,1.0)" font-size="15.1" text-anchor="end" fill="#1a1a1a" stroke="#1a1a1a" stroke-width="0.35">10</text>
<text transform="translate(722.4,2285.76) scale(1,1.0)" font-size="12.5" text-anchor="end" fill="#1a1a1a" stroke="#1a1a1a" stroke-width="0.35">-5</text>
<text transform="translate(710.69,2293.26) scale(1,1.0)" font-size="15.1" text-anchor="end" fill="#1a1a1a" stroke="#1a1a1a" stroke-width="0.35">10</text>
<text transform="translate(722.4,2371.44) scale(1,1.0)" font-size="12.5" text-anchor="end" fill="#1a1a1a" stroke="#1a1a1a" stroke-width="0.35">-10</text>
<text transform="translate(703.74,2378.94) scale(1,1.0)" font-size="15.1" text-anchor="end" fill="#1a1a1a" stroke="#1a1a1a" stroke-width="0.35">10</text>
<text transform="translate(722.4,2457.12) scale(1,1.0)" font-size="12.5" text-anchor="end" fill="#1a1a1a" stroke="#1a1a1a" stroke-width="0.35">-15</text>
<text transform="translate(703.74,2464.62) scale(1,1.0)" font-size="15.1" text-anchor="end" fill="#1a1a1a" stroke="#1a1a1a" stroke-width="0.35">10</text>
<text transform="translate(722.4,2542.8) scale(1,1.0)" font-size="12.5" text-anchor="end" fill="#1a1a1a" stroke="#1a1a1a" stroke-width="0.35">-20</text>
<text transform="translate(703.74,2550.3) scale(1,1.0)" font-size="15.1" text-anchor="end" fill="#1a1a1a" stroke="#1a1a1a" stroke-width="0.35">10</text>
<text transform="translate(955.55,2105.7) scale(1,1.13)" font-size="20.5" text-anchor="middle" fill="#000" stroke="#000" stroke-width="0.35">F10</text>
<text transform="translate(955.55,2591.7) scale(1,0.99)" font-size="22" text-anchor="middle" fill="#1a1a1a" stroke="#1a1a1a" stroke-width="0.35">Number of iteration</text>
<text transform="translate(675.7,2327.8) rotate(-90)" x="0" y="0" font-size="22" text-anchor="middle" fill="#1a1a1a" stroke="#1a1a1a" stroke-width="0.35" style="white-space:pre">Best  fitness  so  far</text>
<rect x="1053.8" y="2126" width="115.7" height="158.1" fill="#fff" stroke="#333333" stroke-width="1"/>
<path d="M1058.3 2136.9H1104.9" stroke="#00ff00" stroke-width="4.6"/>
<text transform="translate(1108.8,2142.5) scale(1,1.04)" font-size="13.8" fill="#000" stroke="#000" stroke-width="0.35">PDO</text>
<path d="M1058.3 2156.37H1104.9" stroke="#000000" stroke-width="4.6"/>
<text transform="translate(1108.8,2161.97) scale(1,1.04)" font-size="13.8" fill="#000" stroke="#000" stroke-width="0.35">IMSPDO</text>
<path d="M1058.3 2175.84H1104.9" stroke="#0000ff" stroke-width="4.6"/>
<text transform="translate(1108.8,2181.44) scale(1,1.04)" font-size="13.8" fill="#000" stroke="#000" stroke-width="0.35">SA</text>
<path d="M1058.3 2195.31H1104.9" stroke="#ffff00" stroke-width="4.6"/>
<text transform="translate(1108.8,2200.91) scale(1,1.04)" font-size="13.8" fill="#000" stroke="#000" stroke-width="0.35">PSO</text>
<path d="M1058.3 2214.79H1104.9" stroke="#ff00ff" stroke-width="4.6"/>
<text transform="translate(1108.8,2220.39) scale(1,1.04)" font-size="13.8" fill="#000" stroke="#000" stroke-width="0.35">DE</text>
<path d="M1058.3 2234.26H1104.9" stroke="#00ffff" stroke-width="4.6"/>
<text transform="translate(1108.8,2239.86) scale(1,1.04)" font-size="13.8" fill="#000" stroke="#000" stroke-width="0.35">GA</text>
<path d="M1058.3 2253.73H1104.9" stroke="#7f7f4c" stroke-width="4.6"/>
<text transform="translate(1108.8,2259.33) scale(1,1.04)" font-size="13.8" fill="#000" stroke="#000" stroke-width="0.35">HHO</text>
<path d="M1058.3 2273.2H1104.9" stroke="#ff0000" stroke-width="4.6"/>
<text transform="translate(1108.8,2278.8) scale(1,1.04)" font-size="13.8" fill="#000" stroke="#000" stroke-width="0.35">GWO</text>
</g></svg>
<svg id="soft" width="1199" height="2594" viewBox="0 0 1199 2594"><use href="#all"/></svg>
</div></body></html>
